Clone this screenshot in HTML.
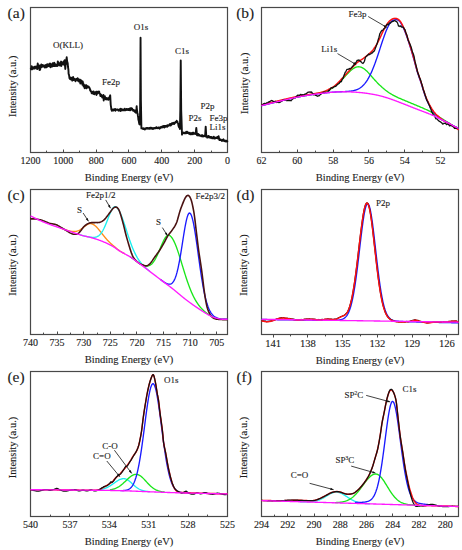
<!DOCTYPE html>
<html><head><meta charset="utf-8"><style>
html,body{margin:0;padding:0;background:#fff;}
svg{display:block;}
text{font-family:"Liberation Serif",serif;fill:#1c1c1c;stroke:#1c1c1c;stroke-width:0.12px;}
</style></head><body>
<svg xmlns="http://www.w3.org/2000/svg" width="462" height="550" viewBox="0 0 462 550">
<rect width="462" height="550" fill="#fff"/>
<rect x="30.5" y="7.5" width="197.0" height="145.0" fill="none" stroke="#484848" stroke-width="1.2"/>
<path d="M63.5,152.5 v-3.0 M96.5,152.5 v-3.0 M128.5,152.5 v-3.0 M161.5,152.5 v-3.0 M194.5,152.5 v-3.0 M46.5,152.5 v-1.9 M79.5,152.5 v-1.9 M112.5,152.5 v-1.9 M145.5,152.5 v-1.9 M178.5,152.5 v-1.9 M211.5,152.5 v-1.9" stroke="#484848" stroke-width="1" fill="none"/>
<text x="30.5" y="163.8" font-size="10" text-anchor="middle" >1200</text>
<text x="63.33" y="163.8" font-size="10" text-anchor="middle" >1000</text>
<text x="96.17" y="163.8" font-size="10" text-anchor="middle" >800</text>
<text x="129" y="163.8" font-size="10" text-anchor="middle" >600</text>
<text x="161.83" y="163.8" font-size="10" text-anchor="middle" >400</text>
<text x="194.67" y="163.8" font-size="10" text-anchor="middle" >200</text>
<text x="227.5" y="163.8" font-size="10" text-anchor="middle" >0</text>
<text x="129" y="180.7" font-size="10.5" text-anchor="middle" >Binding Energy (eV)</text>
<text transform="translate(16.4,86.3) rotate(-90)" font-size="10.5" text-anchor="middle">Intensity (a.u.)</text>
<text x="7.6" y="17.9" font-size="15.5" text-anchor="start" >(a)</text>
<rect x="261.5" y="7.5" width="197.0" height="145.0" fill="none" stroke="#484848" stroke-width="1.2"/>
<path d="M297.5,152.5 v-3.0 M333.5,152.5 v-3.0 M368.5,152.5 v-3.0 M404.5,152.5 v-3.0 M440.5,152.5 v-3.0 M279.5,152.5 v-1.9 M315.5,152.5 v-1.9 M351.5,152.5 v-1.9 M386.5,152.5 v-1.9 M422.5,152.5 v-1.9" stroke="#484848" stroke-width="1" fill="none"/>
<text x="261.5" y="163.8" font-size="10" text-anchor="middle" >62</text>
<text x="297.32" y="163.8" font-size="10" text-anchor="middle" >60</text>
<text x="333.14" y="163.8" font-size="10" text-anchor="middle" >58</text>
<text x="368.95" y="163.8" font-size="10" text-anchor="middle" >56</text>
<text x="404.77" y="163.8" font-size="10" text-anchor="middle" >54</text>
<text x="440.59" y="163.8" font-size="10" text-anchor="middle" >52</text>
<text x="360" y="180.7" font-size="10.5" text-anchor="middle" >Binding Energy (eV)</text>
<text transform="translate(247.6,83.3) rotate(-90)" font-size="10.5" text-anchor="middle">Intensity (a.u.)</text>
<text x="236.2" y="17.9" font-size="15.5" text-anchor="start" >(b)</text>
<rect x="30.5" y="189.5" width="197.0" height="145.0" fill="none" stroke="#484848" stroke-width="1.2"/>
<path d="M57.5,334.5 v-3.0 M83.5,334.5 v-3.0 M110.5,334.5 v-3.0 M136.5,334.5 v-3.0 M163.5,334.5 v-3.0 M190.5,334.5 v-3.0 M216.5,334.5 v-3.0 M43.5,334.5 v-1.9 M70.5,334.5 v-1.9 M97.5,334.5 v-1.9 M123.5,334.5 v-1.9 M150.5,334.5 v-1.9 M176.5,334.5 v-1.9 M203.5,334.5 v-1.9" stroke="#484848" stroke-width="1" fill="none"/>
<text x="30.5" y="345.8" font-size="10" text-anchor="middle" >740</text>
<text x="57.12" y="345.8" font-size="10" text-anchor="middle" >735</text>
<text x="83.74" y="345.8" font-size="10" text-anchor="middle" >730</text>
<text x="110.36" y="345.8" font-size="10" text-anchor="middle" >725</text>
<text x="136.99" y="345.8" font-size="10" text-anchor="middle" >720</text>
<text x="163.61" y="345.8" font-size="10" text-anchor="middle" >715</text>
<text x="190.23" y="345.8" font-size="10" text-anchor="middle" >710</text>
<text x="216.85" y="345.8" font-size="10" text-anchor="middle" >705</text>
<text x="129" y="362.7" font-size="10.5" text-anchor="middle" >Binding Energy (eV)</text>
<text transform="translate(16.3,265) rotate(-90)" font-size="10.5" text-anchor="middle">Intensity (a.u.)</text>
<text x="7.4" y="200" font-size="15.5" text-anchor="start" >(c)</text>
<rect x="261.5" y="189.5" width="197.0" height="145.0" fill="none" stroke="#484848" stroke-width="1.2"/>
<path d="M273.5,334.5 v3.0 M307.5,334.5 v3.0 M342.5,334.5 v3.0 M377.5,334.5 v3.0 M412.5,334.5 v3.0 M446.5,334.5 v3.0 M290.5,334.5 v1.9 M325.5,334.5 v1.9 M360.5,334.5 v1.9 M394.5,334.5 v1.9 M429.5,334.5 v1.9" stroke="#484848" stroke-width="1" fill="none"/>
<text x="273.09" y="347.4" font-size="10.6" text-anchor="middle" >141</text>
<text x="307.85" y="347.4" font-size="10.6" text-anchor="middle" >138</text>
<text x="342.62" y="347.4" font-size="10.6" text-anchor="middle" >135</text>
<text x="377.38" y="347.4" font-size="10.6" text-anchor="middle" >132</text>
<text x="412.15" y="347.4" font-size="10.6" text-anchor="middle" >129</text>
<text x="446.91" y="347.4" font-size="10.6" text-anchor="middle" >126</text>
<text x="360" y="364.1" font-size="10.5" text-anchor="middle" >Binding Energy (eV)</text>
<text transform="translate(246.9,265) rotate(-90)" font-size="10.5" text-anchor="middle">Intensity (a.u.)</text>
<text x="236.4" y="200" font-size="15.5" text-anchor="start" >(d)</text>
<rect x="30.5" y="371.5" width="197.0" height="145.0" fill="none" stroke="#484848" stroke-width="1.2"/>
<path d="M69.5,516.5 v-3.0 M109.5,516.5 v-3.0 M148.5,516.5 v-3.0 M188.5,516.5 v-3.0 M50.5,516.5 v-1.9 M89.5,516.5 v-1.9 M128.5,516.5 v-1.9 M168.5,516.5 v-1.9 M207.5,516.5 v-1.9" stroke="#484848" stroke-width="1" fill="none"/>
<text x="30.5" y="527.8" font-size="10" text-anchor="middle" >540</text>
<text x="69.9" y="527.8" font-size="10" text-anchor="middle" >537</text>
<text x="109.3" y="527.8" font-size="10" text-anchor="middle" >534</text>
<text x="148.7" y="527.8" font-size="10" text-anchor="middle" >531</text>
<text x="188.1" y="527.8" font-size="10" text-anchor="middle" >528</text>
<text x="227.5" y="527.8" font-size="10" text-anchor="middle" >525</text>
<text x="129" y="544.7" font-size="10.5" text-anchor="middle" >Binding Energy (eV)</text>
<text transform="translate(16.1,447.5) rotate(-90)" font-size="10.5" text-anchor="middle">Intensity (a.u.)</text>
<text x="7.4" y="382" font-size="15.5" text-anchor="start" >(e)</text>
<rect x="261.5" y="371.5" width="197.0" height="145.0" fill="none" stroke="#484848" stroke-width="1.2"/>
<path d="M287.5,516.5 v-3.0 M314.5,516.5 v-3.0 M340.5,516.5 v-3.0 M366.5,516.5 v-3.0 M392.5,516.5 v-3.0 M419.5,516.5 v-3.0 M445.5,516.5 v-3.0 M274.5,516.5 v-1.9 M300.5,516.5 v-1.9 M327.5,516.5 v-1.9 M353.5,516.5 v-1.9 M379.5,516.5 v-1.9 M405.5,516.5 v-1.9 M432.5,516.5 v-1.9" stroke="#484848" stroke-width="1" fill="none"/>
<text x="261.5" y="527.8" font-size="10" text-anchor="middle" >294</text>
<text x="287.77" y="527.8" font-size="10" text-anchor="middle" >292</text>
<text x="314.03" y="527.8" font-size="10" text-anchor="middle" >290</text>
<text x="340.3" y="527.8" font-size="10" text-anchor="middle" >288</text>
<text x="366.57" y="527.8" font-size="10" text-anchor="middle" >286</text>
<text x="392.83" y="527.8" font-size="10" text-anchor="middle" >284</text>
<text x="419.1" y="527.8" font-size="10" text-anchor="middle" >282</text>
<text x="445.37" y="527.8" font-size="10" text-anchor="middle" >280</text>
<text x="360" y="544.7" font-size="10.5" text-anchor="middle" >Binding Energy (eV)</text>
<text transform="translate(247.1,447.5) rotate(-90)" font-size="10.5" text-anchor="middle">Intensity (a.u.)</text>
<text x="236.4" y="382" font-size="15.5" text-anchor="start" >(f)</text>
<path d="M30.8,68.68 L31.1,69.29 L31.4,68.57 L31.7,66.28 L32,69.28 L32.3,68.6 L32.6,67.2 L32.9,68.7 L33.2,68.36 L33.5,68.22 L33.8,67.81 L34.1,68.48 L34.4,66.67 L34.7,67.42 L35,66.94 L35,68.43 L35.3,67.62 L35.6,67.12 L35.9,66.41 L36.2,67.1 L36.5,67.43 L36.8,67 L37.1,69.13 L37.4,68.7 L37.7,63.54 L38,64.64 L38.3,66.96 L38.6,66.59 L38.9,67.43 L39.2,67.4 L39.5,69.98 L39.8,65.49 L40,66.48 L40.1,69.8 L40.4,67.84 L40.7,67.82 L41,66.15 L41.3,64.55 L41.6,67.01 L41.9,66.88 L42.2,65 L42.5,65.71 L42.8,66.51 L43.1,65.26 L43.4,66.39 L43.7,66.61 L44,66.49 L44.3,65.7 L44.6,67.17 L44.9,67.54 L45,66.74 L45.2,65.14 L45.5,67.24 L45.8,65.5 L46.1,67.36 L46.4,64.63 L46.7,67.32 L47,65.99 L47.3,64.26 L47.6,65.5 L47.9,65.97 L48.2,66.23 L48.5,64.46 L48.8,64.24 L49.1,66 L49.4,65.04 L49.7,65.97 L50,66.65 L50,63.33 L50.3,65.91 L50.6,67.2 L50.9,65.06 L51.2,64.31 L51.5,66.43 L51.8,65.7 L52.1,66.54 L52.4,64.79 L52.7,63.18 L53,65.03 L53.3,64.52 L53.6,66.16 L53.9,65.32 L54.2,62.76 L54.5,63.32 L54.8,66.15 L55,65.84 L55.1,64 L55.4,64.83 L55.7,65.4 L56,65.39 L56.3,65.9 L56.6,65 L56.9,64.47 L57.2,64.19 L57.5,65.96 L57.8,61.35 L58.1,64.22 L58.4,64.4 L58.7,62.35 L59,64.72 L59.3,63.32 L59.4,65.39 L59.6,63.96 L59.9,64.96 L60.2,65.62 L60.5,64.37 L60.8,62.54 L61.1,61.56 L61.4,65.97 L61.7,63.3 L62,62.41 L62.3,63.46 L62.5,62.94 L62.6,64.32 L62.9,63.03 L63.2,62.84 L63.5,61.67 L63.6,63.25 L63.8,61.29 L64.1,63.82 L64.4,65.18 L64.6,61.1 L64.7,60.13 L65,65.37 L65.3,69.02 L65.6,65.12 L65.6,64.78 L65.9,64.53 L66.2,60.93 L66.3,60 L66.5,58.65 L66.7,57.3 L66.8,58.24 L67.1,61.06 L67.2,62 L67.4,61.98 L67.7,63.69 L67.7,63.08 L68,67.01 L68.3,68.91 L68.5,70.94 L68.6,74 L68.9,74.31 L69.2,76.08 L69.5,78.41 L69.6,78.09 L69.8,78.32 L70.1,79 L70.4,78.92 L70.7,77.58 L71,79.57 L71.3,78.24 L71.6,77.85 L71.9,78.05 L72.2,78.6 L72.3,80.58 L72.5,77.89 L72.8,79.22 L73.1,77.04 L73.4,79.15 L73.7,80.06 L74,79 L74.3,78.66 L74.6,79.54 L74.9,80.03 L75.2,80.04 L75.5,81.35 L75.8,79.68 L76.1,78.94 L76.4,79.44 L76.7,79.53 L76.7,79.71 L77,79.66 L77.3,79.95 L77.6,78.25 L77.9,80.76 L78.2,79.49 L78.5,79 L78.8,80.84 L79.1,81.59 L79.4,80.88 L79.7,80.65 L80,79.68 L80.3,83.46 L80.4,81.55 L80.6,79.89 L80.9,80.67 L81.2,81.95 L81.5,80.79 L81.8,82.9 L82.1,82.73 L82.4,84.8 L82.6,84.83 L82.7,81.41 L83,84.49 L83.3,83.29 L83.6,86.35 L83.9,85.85 L84.2,86.63 L84.2,85.07 L84.5,87.93 L84.8,88.17 L85.1,85.23 L85.4,86.68 L85.7,85.72 L86,86.41 L86.3,85.26 L86.6,88.36 L86.9,85.66 L86.9,86.31 L87.2,87.26 L87.5,86.33 L87.8,86.9 L88.1,86.76 L88.4,87.36 L88.7,86.53 L89,87.42 L89.3,87.82 L89.6,87.88 L89.6,88.25 L89.9,88.69 L90.2,90.48 L90.5,90.22 L90.8,91.17 L91.1,91.44 L91.3,92.09 L91.4,91.41 L91.7,93.25 L92,91.75 L92.3,92.25 L92.6,93.43 L92.9,93.58 L93.2,92.92 L93.5,91.46 L93.8,93.93 L94,93.85 L94.1,92.21 L94.4,94.28 L94.7,92.81 L95,92.35 L95.3,93.49 L95.6,93.18 L95.9,93.5 L96.2,91.7 L96.5,94.97 L96.8,92.58 L97.1,91.62 L97.2,93.7 L97.4,92.68 L97.7,93.22 L98,92.46 L98.3,92.62 L98.5,92.84 L98.6,91.68 L98.9,92.46 L98.9,91.34 L99.2,91.68 L99.4,93.07 L99.5,93.69 L99.8,93.8 L100.1,93.95 L100.4,96.15 L100.5,94.09 L100.7,94.9 L101,96.09 L101.3,94.89 L101.6,96.39 L101.9,96.46 L102.2,97.54 L102.5,95.94 L102.8,96.37 L103.1,97.45 L103.4,94.9 L103.7,100.44 L104,96.91 L104.3,97.04 L104.6,98.73 L104.8,97.96 L104.9,96.32 L105.2,98.81 L105.5,99.18 L105.8,98.06 L106.1,98.38 L106.4,99.27 L106.7,98.07 L107,99.53 L107.3,99.44 L107.6,98.75 L107.9,98.2 L108,99.38 L108.2,98.4 L108.5,99.7 L108.8,98.35 L109.1,98.45 L109.4,97.3 L109.5,97.26 L109.7,96.51 L110,95.79 L110.2,95.3 L110.3,97.14 L110.6,102.66 L110.7,104.5 L110.9,106.1 L111.2,107.82 L111.3,109.43 L111.5,109.07 L111.8,110.83 L112.1,109.52 L112.4,109.78 L112.7,110.22 L113,109.59 L113.3,110.65 L113.5,109.54 L113.6,109.45 L113.9,109.71 L114.2,109.86 L114.5,109.14 L114.8,109.92 L115.1,109.01 L115.4,110.73 L115.7,109.92 L116,109.61 L116.3,109.47 L116.6,109.77 L116.9,109.87 L117.2,109.42 L117.5,109.49 L117.8,109.91 L118.1,109.74 L118.4,110.56 L118.7,110.68 L119,110.06 L119.3,110.33 L119.6,109.32 L119.9,110.44 L120.2,110.07 L120.5,110.37 L120.7,111 L120.8,108.81 L121.1,110.21 L121.4,109.42 L121.7,110.34 L122,109.24 L122.3,109.67 L122.6,110.04 L122.9,110.24 L123.2,109.91 L123.5,109.39 L123.8,109.5 L124.1,110.28 L124.4,109.75 L124.7,108.78 L125,110.17 L125.3,109.91 L125.6,110.13 L125.9,109.43 L126.2,110.05 L126.5,108.96 L126.8,109.85 L127.1,109.23 L127.4,109.86 L127.7,110.01 L128,109.01 L128.3,109.36 L128.6,109.39 L128.9,110.01 L129.2,109.71 L129.3,108.62 L129.5,109.52 L129.8,109.62 L130.1,110.34 L130.4,108.15 L130.7,108.73 L131,109.72 L131.3,108.15 L131.6,108.18 L131.9,109.09 L131.9,109.37 L132.2,108.68 L132.5,109.61 L132.8,109.63 L133.1,110.67 L133.4,110.07 L133.7,110.88 L134,110.07 L134.3,110.73 L134.5,110.95 L134.6,111.74 L134.9,111.73 L135.2,111.28 L135.5,112.38 L135.8,112.73 L135.8,112.24 L136.1,110.42 L136.4,108.72 L136.7,106.15 L136.7,107.21 L137,110.03 L137.3,112.21 L137.3,113.12 L137.6,113.59 L137.9,115.72 L138.2,117.42 L138.4,119.92 L138.5,118.42 L138.8,121.2 L139.1,122.98 L139.3,123.71 L139.4,124.33 L139.7,123.6 L139.9,124.5 L140,116.33 L140.2,100 L140.3,82.23 L140.55,37.8 L140.6,46.69 L140.9,100 L140.9,100 L141.2,116.98 L141.4,128.36 L141.5,128.25 L141.8,128.37 L142.1,128.29 L142.4,128.7 L142.7,128.59 L143,128.32 L143.3,128.98 L143.6,128.27 L143.9,128.72 L144.2,128.81 L144.5,129.33 L144.8,128.46 L144.9,129.5 L145.1,128.75 L145.4,128.53 L145.7,128.27 L146,128.8 L146.3,128.5 L146.6,127.93 L146.9,127.87 L147.2,128.08 L147.5,127.98 L147.8,128.75 L148.1,128.83 L148.4,128.55 L148.7,128.27 L149,127.86 L149.3,128.03 L149.6,128.37 L149.9,128.89 L150,128.32 L150.2,127.79 L150.5,127.95 L150.8,127.73 L151.1,127.62 L151.4,127.91 L151.7,128.11 L152,128.88 L152.3,128.08 L152.6,128.71 L152.9,128.91 L153.2,128.16 L153.5,128.88 L153.8,128.49 L154.1,127.99 L154.3,128.32 L154.4,128.2 L154.7,128.05 L155,128.03 L155.3,128.15 L155.6,128.25 L155.9,127.61 L156.2,127.98 L156.5,127.25 L156.8,128.04 L157.1,128.17 L157.4,127.92 L157.7,127.94 L158,128.05 L158.3,127.44 L158.6,127.6 L158.7,127.93 L158.9,128.12 L159.2,127.79 L159.5,128.72 L159.8,127.45 L160.1,127.9 L160.4,127.97 L160.7,127.27 L161,126.9 L161.3,126.67 L161.6,127.24 L161.9,127.61 L162.2,127.17 L162.5,127.07 L162.8,126.76 L163,127.16 L163.1,125.9 L163.4,126.92 L163.7,126.77 L164,126.06 L164.3,127.63 L164.6,125.93 L164.9,126.01 L165.2,125.89 L165.5,126.89 L165.8,125.91 L166.1,126.56 L166.4,126.46 L166.7,126.24 L167,125.46 L167.3,125.72 L167.3,126.77 L167.6,125.26 L167.9,125.32 L168.2,125.48 L168.5,125.77 L168.8,125.37 L169.1,125.44 L169.4,124.46 L169.7,125.23 L169.9,124.96 L170,123.94 L170.3,125.28 L170.6,125.54 L170.9,124.04 L171.2,124.33 L171.5,124.85 L171.8,123.43 L172.1,123.11 L172.4,123.33 L172.5,123.64 L172.7,123.53 L173,123.93 L173.3,123.62 L173.6,122.78 L173.9,123.46 L174.2,123.91 L174.5,123.45 L174.8,123.21 L175.1,122.61 L175.1,123.05 L175.4,121.87 L175.7,122.38 L176,121.72 L176.3,121.99 L176.6,121.41 L176.7,120.6 L176.9,121.46 L177.2,122.41 L177.5,121.78 L177.7,122.34 L177.8,122.58 L178.1,123.24 L178.4,125.36 L178.7,126.51 L179,127.27 L179,127.01 L179.3,127.44 L179.6,128.14 L179.9,128.26 L179.9,129.01 L180.2,114.65 L180.3,110 L180.5,87.96 L180.75,60.4 L180.8,65.91 L181.1,98.98 L181.2,110 L181.4,115.95 L181.7,125.06 L182,134.66 L182,134.11 L182.3,134.1 L182.6,133.61 L182.9,132.58 L183.2,132.55 L183.5,132.71 L183.8,133.12 L184.1,133.22 L184.4,133.29 L184.6,132.74 L184.7,133.35 L185,132.81 L185.3,132.64 L185.6,133.38 L185.9,132.6 L186.2,131.79 L186.5,132.59 L186.8,133.15 L187.1,131.72 L187.4,133 L187.7,133.03 L188,132.56 L188.3,132.56 L188.6,133.06 L188.9,133.05 L189.2,133.9 L189.5,133.53 L189.8,132.66 L190,133.01 L190.1,133.72 L190.4,134.27 L190.7,133.58 L191,133.54 L191.3,134.25 L191.6,133.39 L191.9,133.26 L192.2,132.75 L192.5,133.16 L192.8,134.4 L193.1,132.75 L193.4,133.41 L193.7,132.75 L194,133.46 L194.3,133.81 L194.3,133.29 L194.6,133.69 L194.9,133.65 L195.2,133.48 L195.5,134.02 L195.7,133.2 L195.8,132.32 L196.1,129.67 L196.3,127.9 L196.4,128.97 L196.7,132.17 L196.9,134.3 L197,135.18 L197.3,134.34 L197.6,134.39 L197.9,135.43 L198.2,133.89 L198.5,134.65 L198.8,135.4 L199.1,134.65 L199.4,134.95 L199.7,135.12 L200,135.69 L200.3,135.55 L200.6,135.78 L200.9,135.97 L201.2,135.81 L201.2,136.31 L201.5,135.51 L201.8,135.23 L202.1,135.12 L202.4,135.24 L202.7,135.78 L203,136.55 L203.3,136.2 L203.6,135.89 L203.9,135.72 L204.2,136.02 L204.5,136.12 L204.8,136.09 L205.1,136.4 L205.1,136.4 L205.4,131.5 L205.7,126.6 L205.7,126.6 L206,131.6 L206.3,136.6 L206.3,136.6 L206.6,135.7 L206.9,136.76 L207.2,137.61 L207.5,136.88 L207.8,137.42 L208.1,136.91 L208.4,136.01 L208.7,137.28 L209,136.92 L209.3,136.5 L209.6,137.58 L209.9,137.41 L210,137.06 L210.2,137.73 L210.5,136.98 L210.8,137.72 L211.1,137.04 L211.4,137.76 L211.7,137.06 L212,138.3 L212.3,137.78 L212.6,138.37 L212.9,137.38 L213.2,137.58 L213.5,138.23 L213.8,136.64 L214.1,137.45 L214.4,138.46 L214.7,138.25 L215,138.53 L215.1,137.96 L215.3,138.39 L215.6,137.85 L215.9,137.6 L216.2,137.5 L216.5,138.08 L216.8,138.13 L217.1,138.14 L217.4,136.85 L217.7,137.62 L218,138.58 L218.1,138.6 L218.3,137.68 L218.6,136.3 L218.6,136.3 L218.9,137.75 L219.2,139.2 L219.2,139.2 L219.5,140.09 L219.8,139.67 L220.1,139.45 L220.4,139.95 L220.6,139.47 L220.7,140.13 L221,140.05 L221.3,140.34 L221.6,140.57 L221.9,140.97 L222.2,140.03 L222.5,140.73 L222.8,140.29 L222.9,140.3 L223.1,139.9 L223.4,139.3 L223.4,139.3 L223.7,140.1 L224,140.9 L224,140.9 L224.3,141.09 L224.6,140.76 L224.9,140.56 L225.2,141.36 L225.5,141.34 L225.8,140.77 L226.1,141.61 L226.4,140.61 L226.7,141.39 L227,141.25 L227.3,141.36 L227.3,141.1" fill="none" stroke="#111111" stroke-width="1.9" stroke-linejoin="round" stroke-linecap="round" />
<text x="53.1" y="47.9" font-size="9" text-anchor="start" >O(KLL)</text>
<text x="101.9" y="85" font-size="9" text-anchor="start" >Fe2p</text>
<text x="133.7" y="29.9" font-size="9" text-anchor="start" >O1s</text>
<text x="174.9" y="53.8" font-size="9" text-anchor="start" >C1s</text>
<text x="200.5" y="108.6" font-size="9" text-anchor="start" >P2p</text>
<text x="188.5" y="121.4" font-size="9" text-anchor="start" >P2s</text>
<text x="209.5" y="121.4" font-size="9" text-anchor="start" >Fe3p</text>
<text x="209.5" y="130.4" font-size="9" text-anchor="start" >Li1s</text>
<path d="M262,105.41 L262.5,105.28 L263,105.16 L263.5,105.04 L264,104.92 L264.5,104.79 L265,104.67 L265.5,104.55 L266,104.42 L266.5,104.3 L267,104.18 L267.5,104.06 L268,103.93 L268.5,103.81 L269,103.69 L269.5,103.57 L270,103.44 L270.5,103.32 L271,103.2 L271.5,103.08 L272,102.96 L272.5,102.83 L273,102.71 L273.5,102.59 L274,102.47 L274.5,102.35 L275,102.23 L275.5,102.11 L276,101.99 L276.5,101.87 L277,101.75 L277.5,101.63 L278,101.51 L278.5,101.39 L279,101.27 L279.5,101.16 L280,101.04 L280.5,100.92 L281,100.8 L281.5,100.68 L282,100.56 L282.5,100.44 L283,100.32 L283.5,100.21 L284,100.09 L284.5,99.97 L285,99.85 L285.5,99.73 L286,99.61 L286.5,99.49 L287,99.37 L287.5,99.25 L288,99.14 L288.5,99.02 L289,98.9 L289.5,98.79 L290,98.67 L290.5,98.55 L291,98.44 L291.5,98.33 L292,98.22 L292.5,98.1 L293,97.99 L293.5,97.88 L294,97.78 L294.5,97.67 L295,97.56 L295.5,97.46 L296,97.36 L296.5,97.25 L297,97.15 L297.5,97.05 L298,96.95 L298.5,96.86 L299,96.76 L299.5,96.66 L300,96.57 L300.5,96.47 L301,96.38 L301.5,96.28 L302,96.19 L302.5,96.1 L303,96.01 L303.5,95.92 L304,95.83 L304.5,95.74 L305,95.65 L305.5,95.56 L306,95.47 L306.5,95.38 L307,95.29 L307.5,95.2 L308,95.12 L308.5,95.03 L309,94.94 L309.5,94.86 L310,94.77 L310.5,94.68 L311,94.6 L311.5,94.51 L312,94.42 L312.5,94.34 L313,94.25 L313.5,94.16 L314,94.07 L314.5,93.98 L315,93.89 L315.5,93.8 L316,93.7 L316.5,93.61 L317,93.51 L317.5,93.41 L318,93.31 L318.5,93.2 L319,93.09 L319.5,92.98 L320,92.87 L320.5,92.75 L321,92.63 L321.5,92.5 L322,92.37 L322.5,92.24 L323,92.1 L323.5,91.95 L324,91.8 L324.5,91.64 L325,91.47 L325.5,91.3 L326,91.12 L326.5,90.93 L327,90.74 L327.5,90.53 L328,90.32 L328.5,90.09 L329,89.86 L329.5,89.61 L330,89.36 L330.5,89.09 L331,88.81 L331.5,88.52 L332,88.22 L332.5,87.91 L333,87.58 L333.5,87.24 L334,86.89 L334.5,86.53 L335,86.15 L335.5,85.77 L336,85.37 L336.5,84.95 L337,84.53 L337.5,84.09 L338,83.65 L338.5,83.19 L339,82.72 L339.5,82.24 L340,81.74 L340.5,81.24 L341,80.74 L341.5,80.22 L342,79.69 L342.5,79.16 L343,78.63 L343.5,78.09 L344,77.54 L344.5,77 L345,76.45 L345.5,75.9 L346,75.36 L346.5,74.82 L347,74.28 L347.5,73.75 L348,73.23 L348.5,72.71 L349,72.21 L349.5,71.72 L350,71.24 L350.5,70.78 L351,70.34 L351.5,69.92 L352,69.52 L352.5,69.13 L353,68.78 L353.5,68.45 L354,68.14 L354.5,67.86 L355,67.62 L355.5,67.4 L356,67.21 L356.5,67.06 L357,66.94 L357.5,66.85 L358,66.8 L358.5,66.78 L359,66.8 L359.5,66.86 L360,66.94 L360.5,67.06 L361,67.21 L361.5,67.4 L362,67.61 L362.5,67.86 L363,68.14 L363.5,68.45 L364,68.79 L364.5,69.15 L365,69.54 L365.5,69.96 L366,70.4 L366.5,70.86 L367,71.34 L367.5,71.84 L368,72.35 L368.5,72.88 L369,73.43 L369.5,73.99 L370,74.56 L370.5,75.14 L371,75.72 L371.5,76.29 L372,76.87 L372.5,77.44 L373,78.01 L373.5,78.58 L374,79.14 L374.5,79.7 L375,80.25 L375.5,80.79 L376,81.33 L376.5,81.86 L377,82.39 L377.5,82.91 L378,83.41 L378.5,83.92 L379,84.41 L379.5,84.9 L380,85.38 L380.5,85.85 L381,86.31 L381.5,86.77 L382,87.21 L382.5,87.66 L383,88.09 L383.5,88.52 L384,88.94 L384.5,89.35 L385,89.76 L385.5,90.17 L386,90.56 L386.5,90.94 L387,91.31 L387.5,91.67 L388,92.03 L388.5,92.37 L389,92.7 L389.5,93.03 L390,93.34 L390.5,93.65 L391,93.95 L391.5,94.24 L392,94.53 L392.5,94.81 L393,95.09 L393.5,95.36 L394,95.63 L394.5,95.89 L395,96.15 L395.5,96.4 L396,96.65 L396.5,96.89 L397,97.13 L397.5,97.36 L398,97.6 L398.5,97.82 L399,98.05 L399.5,98.27 L400,98.49 L400.5,98.71 L401,98.93 L401.5,99.14 L402,99.35 L402.5,99.56 L403,99.77 L403.5,99.98 L404,100.19 L404.5,100.4 L405,100.61 L405.5,100.82 L406,101.02 L406.5,101.23 L407,101.44 L407.5,101.64 L408,101.85 L408.5,102.06 L409,102.26 L409.5,102.47 L410,102.68 L410.5,102.89 L411,103.09 L411.5,103.3 L412,103.51 L412.5,103.72 L413,103.93 L413.5,104.14 L414,104.35 L414.5,104.56 L415,104.77 L415.5,104.98 L416,105.19 L416.5,105.4 L417,105.61 L417.5,105.82 L418,106.03 L418.5,106.24 L419,106.45 L419.5,106.65 L420,106.86 L420.5,107.08 L421,107.29 L421.5,107.5 L422,107.71 L422.5,107.93 L423,108.15 L423.5,108.37 L424,108.59 L424.5,108.81 L425,109.03 L425.5,109.26 L426,109.49 L426.5,109.73 L427,109.96 L427.5,110.2 L428,110.44 L428.5,110.69 L429,110.95 L429.5,111.2 L430,111.47 L430.5,111.74 L431,112.01 L431.5,112.29 L432,112.58 L432.5,112.87 L433,113.16 L433.5,113.46 L434,113.76 L434.5,114.06 L435,114.37 L435.5,114.68 L436,114.99 L436.5,115.3 L437,115.61 L437.5,115.93 L438,116.24 L438.5,116.55 L439,116.86 L439.5,117.18 L440,117.48 L440.5,117.79 L441,118.11 L441.5,118.42 L442,118.73 L442.5,119.04 L443,119.36 L443.5,119.67 L444,119.99 L444.5,120.3 L445,120.62 L445.5,120.93 L446,121.25 L446.5,121.56 L447,121.88 L447.5,122.19 L448,122.5 L448.5,122.81 L449,123.12 L449.5,123.43 L450,123.73 L450.5,124.04 L451,124.34 L451.5,124.64 L452,124.93 L452.5,125.22 L453,125.51 L453.5,125.78 L454,126.05 L454.5,126.32 L455,126.57 L455.5,126.83 L456,127.08 L456.5,127.33 L457,127.58 L457.5,127.83 L458,128.08" fill="none" stroke="#19e619" stroke-width="1.35" stroke-linejoin="round" stroke-linecap="round" />
<path d="M262,105.48 L262.5,105.36 L263,105.23 L263.5,105.11 L264,104.99 L264.5,104.87 L265,104.75 L265.5,104.62 L266,104.5 L266.5,104.38 L267,104.26 L267.5,104.13 L268,104.01 L268.5,103.89 L269,103.77 L269.5,103.64 L270,103.52 L270.5,103.4 L271,103.28 L271.5,103.15 L272,103.03 L272.5,102.91 L273,102.79 L273.5,102.67 L274,102.54 L274.5,102.42 L275,102.3 L275.5,102.18 L276,102.06 L276.5,101.94 L277,101.82 L277.5,101.7 L278,101.58 L278.5,101.46 L279,101.34 L279.5,101.22 L280,101.11 L280.5,100.99 L281,100.87 L281.5,100.75 L282,100.63 L282.5,100.51 L283,100.39 L283.5,100.27 L284,100.15 L284.5,100.03 L285,99.91 L285.5,99.79 L286,99.67 L286.5,99.55 L287,99.43 L287.5,99.31 L288,99.19 L288.5,99.07 L289,98.95 L289.5,98.84 L290,98.72 L290.5,98.61 L291,98.49 L291.5,98.38 L292,98.27 L292.5,98.15 L293,98.04 L293.5,97.93 L294,97.82 L294.5,97.72 L295,97.61 L295.5,97.51 L296,97.4 L296.5,97.3 L297,97.2 L297.5,97.1 L298,97 L298.5,96.9 L299,96.81 L299.5,96.71 L300,96.62 L300.5,96.52 L301,96.43 L301.5,96.34 L302,96.24 L302.5,96.15 L303,96.06 L303.5,95.97 L304,95.89 L304.5,95.8 L305,95.71 L305.5,95.63 L306,95.54 L306.5,95.46 L307,95.37 L307.5,95.29 L308,95.21 L308.5,95.13 L309,95.05 L309.5,94.97 L310,94.89 L310.5,94.81 L311,94.74 L311.5,94.66 L312,94.59 L312.5,94.51 L313,94.44 L313.5,94.37 L314,94.3 L314.5,94.23 L315,94.16 L315.5,94.09 L316,94.02 L316.5,93.95 L317,93.89 L317.5,93.82 L318,93.76 L318.5,93.69 L319,93.63 L319.5,93.57 L320,93.51 L320.5,93.44 L321,93.38 L321.5,93.33 L322,93.27 L322.5,93.21 L323,93.15 L323.5,93.1 L324,93.04 L324.5,92.99 L325,92.93 L325.5,92.88 L326,92.83 L326.5,92.78 L327,92.73 L327.5,92.68 L328,92.63 L328.5,92.58 L329,92.53 L329.5,92.49 L330,92.44 L330.5,92.4 L331,92.36 L331.5,92.31 L332,92.27 L332.5,92.23 L333,92.19 L333.5,92.15 L334,92.11 L334.5,92.08 L335,92.04 L335.5,92.01 L336,91.98 L336.5,91.95 L337,91.92 L337.5,91.89 L338,91.87 L338.5,91.84 L339,91.82 L339.5,91.8 L340,91.77 L340.5,91.75 L341,91.73 L341.5,91.71 L342,91.69 L342.5,91.67 L343,91.65 L343.5,91.62 L344,91.6 L344.5,91.58 L345,91.56 L345.5,91.53 L346,91.5 L346.5,91.47 L347,91.44 L347.5,91.41 L348,91.37 L348.5,91.33 L349,91.29 L349.5,91.24 L350,91.19 L350.5,91.13 L351,91.07 L351.5,91 L352,90.92 L352.5,90.83 L353,90.74 L353.5,90.63 L354,90.52 L354.5,90.39 L355,90.25 L355.5,90.1 L356,89.93 L356.5,89.75 L357,89.55 L357.5,89.34 L358,89.1 L358.5,88.85 L359,88.58 L359.5,88.28 L360,87.96 L360.5,87.62 L361,87.26 L361.5,86.87 L362,86.45 L362.5,86.01 L363,85.53 L363.5,85.03 L364,84.49 L364.5,83.92 L365,83.32 L365.5,82.69 L366,82.02 L366.5,81.31 L367,80.56 L367.5,79.78 L368,78.96 L368.5,78.1 L369,77.2 L369.5,76.26 L370,75.28 L370.5,74.26 L371,73.2 L371.5,72.1 L372,70.96 L372.5,69.79 L373,68.57 L373.5,67.33 L374,66.04 L374.5,64.72 L375,63.37 L375.5,61.99 L376,60.59 L376.5,59.15 L377,57.7 L377.5,56.22 L378,54.73 L378.5,53.22 L379,51.7 L379.5,50.17 L380,48.63 L380.5,47.1 L381,45.57 L381.5,44.05 L382,42.53 L382.5,41.04 L383,39.56 L383.5,38.1 L384,36.67 L384.5,35.28 L385,33.92 L385.5,32.6 L386,31.32 L386.5,30.09 L387,28.92 L387.5,27.8 L388,26.74 L388.5,25.74 L389,24.82 L389.5,23.96 L390,23.18 L390.5,22.48 L391,21.86 L391.5,21.32 L392,20.88 L392.5,20.52 L393,20.25 L393.5,20.07 L394,19.98 L394.5,19.99 L395,20.1 L395.5,19.66 L396,19.66 L396.5,19.66 L397,19.64 L397.5,19.84 L398,20.11 L398.5,20.44 L399,20.83 L399.5,21.3 L400,21.87 L400.5,22.56 L401,23.34 L401.5,24.2 L402,25.13 L402.5,26.1 L403,27.11 L403.5,28.17 L404,29.29 L404.5,30.47 L405,31.69 L405.5,32.97 L406,34.3 L406.5,35.68 L407,37.11 L407.5,38.58 L408,40.08 L408.5,41.61 L409,43.16 L409.5,44.74 L410,46.32 L410.5,47.91 L411,49.53 L411.5,51.17 L412,52.83 L412.5,54.52 L413,56.22 L413.5,57.95 L414,59.71 L414.5,61.56 L415,63.48 L415.5,65.41 L416,67.33 L416.5,69.17 L417,70.9 L417.5,72.51 L418,74.05 L418.5,75.53 L419,76.98 L419.5,78.41 L420,79.84 L420.5,81.3 L421,82.81 L421.5,84.38 L422,85.99 L422.5,87.62 L423,89.26 L423.5,90.89 L424,92.48 L424.5,94.03 L425,95.5 L425.5,96.88 L426,98.16 L426.5,99.34 L427,100.48 L427.5,101.59 L428,102.66 L428.5,103.7 L429,104.69 L429.5,105.66 L430,106.59 L430.5,107.48 L431,108.34 L431.5,109.16 L432,109.95 L432.5,110.7 L433,111.42 L433.5,112.11 L434,112.76 L434.5,113.38 L435,113.97 L435.5,114.54 L436,115.08 L436.5,115.59 L437,116.09 L437.5,116.57 L438,117.02 L438.5,117.47 L439,117.9 L439.5,118.32 L440,118.73 L440.5,119.04 L441,119.3 L441.5,119.55 L442,119.8 L442.5,120.06 L443,120.31 L443.5,120.57 L444,120.83 L444.5,121.08 L445,121.34 L445.5,121.6 L446,121.86 L446.5,122.12 L447,122.39 L447.5,122.65 L448,122.91 L448.5,123.17 L449,123.44 L449.5,123.7 L450,123.96 L450.5,124.23 L451,124.49 L451.5,124.75 L452,125.02 L452.5,125.28 L453,125.54 L453.5,125.81 L454,126.07 L454.5,126.33 L455,126.59 L455.5,126.85 L456,127.11 L456.5,127.37 L457,127.63 L457.5,127.89 L458,128.14" fill="none" stroke="#1a1aff" stroke-width="1.35" stroke-linejoin="round" stroke-linecap="round" />
<path d="M262,104.78 L262.5,104.66 L263,104.53 L263.5,104.41 L264,104.29 L264.5,104.17 L265,104.04 L265.5,103.92 L266,103.8 L266.5,103.68 L267,103.55 L267.5,103.43 L268,103.31 L268.5,103.18 L269,103.06 L269.5,102.94 L270,102.81 L270.5,102.69 L271,102.57 L271.5,102.45 L272,102.32 L272.5,102.2 L273,102.08 L273.5,101.96 L274,101.84 L274.5,101.72 L275,101.59 L275.5,101.47 L276,101.35 L276.5,101.23 L277,101.11 L277.5,101 L278,100.88 L278.5,100.76 L279,100.64 L279.5,100.52 L280,100.41 L280.5,100.29 L281,100.17 L281.5,100.05 L282,99.94 L282.5,99.82 L283,99.7 L283.5,99.58 L284,99.47 L284.5,99.35 L285,99.23 L285.5,99.12 L286,99 L286.5,98.88 L287,98.77 L287.5,98.65 L288,98.54 L288.5,98.42 L289,98.31 L289.5,98.2 L290,98.08 L290.5,97.97 L291,97.86 L291.5,97.75 L292,97.64 L292.5,97.53 L293,97.42 L293.5,97.32 L294,97.21 L294.5,97.11 L295,97 L295.5,96.9 L296,96.8 L296.5,96.7 L297,96.6 L297.5,96.5 L298,96.41 L298.5,96.31 L299,96.22 L299.5,96.13 L300,96.04 L300.5,95.95 L301,95.86 L301.5,95.78 L302,95.69 L302.5,95.6 L303,95.52 L303.5,95.44 L304,95.36 L304.5,95.27 L305,95.19 L305.5,95.11 L306,95.03 L306.5,94.95 L307,94.87 L307.5,94.79 L308,94.71 L308.5,94.63 L309,94.55 L309.5,94.47 L310,94.39 L310.5,94.31 L311,94.23 L311.5,94.14 L312,94.06 L312.5,93.98 L313,93.89 L313.5,93.81 L314,93.72 L314.5,93.64 L315,93.55 L315.5,93.46 L316,93.38 L316.5,93.3 L317,93.22 L317.5,93.14 L318,93.06 L318.5,92.97 L319,92.88 L319.5,92.79 L320,92.69 L320.5,92.58 L321,92.46 L321.5,92.34 L322,92.2 L322.5,92.05 L323,91.9 L323.5,91.73 L324,91.55 L324.5,91.37 L325,91.17 L325.5,90.97 L326,90.75 L326.5,90.53 L327,90.3 L327.5,90.05 L328,89.8 L328.5,89.54 L329,89.28 L329.5,89.02 L330,88.76 L330.5,88.48 L331,88.2 L331.5,87.91 L332,87.61 L332.5,87.3 L333,86.98 L333.5,86.63 L334,86.28 L334.5,85.9 L335,85.5 L335.5,85.08 L336,84.64 L336.5,84.19 L337,83.72 L337.5,83.24 L338,82.74 L338.5,82.23 L339,81.72 L339.5,81.2 L340,80.67 L340.5,80.14 L341,79.61 L341.5,79.07 L342,78.54 L342.5,78.01 L343,77.49 L343.5,76.96 L344,76.42 L344.5,75.88 L345,75.34 L345.5,74.78 L346,74.23 L346.5,73.68 L347,73.12 L347.5,72.57 L348,72.01 L348.5,71.46 L349,70.91 L349.5,70.37 L350,69.83 L350.5,69.31 L351,68.78 L351.5,68.25 L352,67.72 L352.5,67.19 L353,66.67 L353.5,66.15 L354,65.63 L354.5,65.13 L355,64.63 L355.5,64.15 L356,63.68 L356.5,63.22 L357,62.79 L357.5,62.37 L358,61.98 L358.5,61.62 L359,61.27 L359.5,60.93 L360,60.61 L360.5,60.29 L361,59.98 L361.5,59.66 L362,59.33 L362.5,59 L363,58.65 L363.5,58.28 L364,57.89 L364.5,57.51 L365,57.13 L365.5,56.75 L366,56.37 L366.5,55.99 L367,55.6 L367.5,55.2 L368,54.79 L368.5,54.38 L369,53.95 L369.5,53.51 L370,53.06 L370.5,52.59 L371,52.1 L371.5,51.6 L372,51.06 L372.5,50.47 L373,49.86 L373.5,49.2 L374,48.52 L374.5,47.8 L375,47.06 L375.5,46.29 L376,45.5 L376.5,44.67 L377,43.79 L377.5,42.87 L378,41.91 L378.5,40.93 L379,39.93 L379.5,38.91 L380,37.9 L380.5,36.86 L381,35.77 L381.5,34.66 L382,33.53 L382.5,32.42 L383,31.33 L383.5,30.29 L384,29.31 L384.5,28.37 L385,27.45 L385.5,26.55 L386,25.7 L386.5,24.88 L387,24.11 L387.5,23.4 L388,22.75 L388.5,22.14 L389,21.59 L389.5,21.09 L390,20.63 L390.5,20.22 L391,19.85 L391.5,19.52 L392,19.23 L392.5,18.98 L393,18.76 L393.5,18.59 L394,18.47 L394.5,18.39 L395,18.36 L395.5,18.39 L396,18.46 L396.5,18.58 L397,18.74 L397.5,18.94 L398,19.21 L398.5,19.54 L399,19.93 L399.5,20.4 L400,20.97 L400.5,21.66 L401,22.44 L401.5,23.3 L402,24.23 L402.5,25.2 L403,26.21 L403.5,27.27 L404,28.39 L404.5,29.57 L405,30.79 L405.5,32.07 L406,33.4 L406.5,34.78 L407,36.21 L407.5,37.68 L408,39.18 L408.5,40.71 L409,42.26 L409.5,43.84 L410,45.42 L410.5,47.01 L411,48.63 L411.5,50.27 L412,51.93 L412.5,53.62 L413,55.32 L413.5,57.05 L414,58.81 L414.5,60.66 L415,62.58 L415.5,64.51 L416,66.43 L416.5,68.27 L417,70 L417.5,71.61 L418,73.15 L418.5,74.63 L419,76.08 L419.5,77.51 L420,78.94 L420.5,80.4 L421,81.91 L421.5,83.48 L422,85.09 L422.5,86.72 L423,88.36 L423.5,89.99 L424,91.58 L424.5,93.13 L425,94.6 L425.5,95.98 L426,97.26 L426.5,98.44 L427,99.58 L427.5,100.69 L428,101.76 L428.5,102.8 L429,103.79 L429.5,104.76 L430,105.69 L430.5,106.58 L431,107.44 L431.5,108.26 L432,109.05 L432.5,109.8 L433,110.52 L433.5,111.21 L434,111.86 L434.5,112.48 L435,113.07 L435.5,113.64 L436,114.18 L436.5,114.69 L437,115.19 L437.5,115.67 L438,116.12 L438.5,116.57 L439,117 L439.5,117.42 L440,117.83 L440.5,118.24 L441,118.63 L441.5,119.03 L442,119.42 L442.5,119.81 L443,120.17 L443.5,120.52 L444,120.85 L444.5,121.16 L445,121.46 L445.5,121.75 L446,122.03 L446.5,122.3 L447,122.57 L447.5,122.83 L448,123.1 L448.5,123.37 L449,123.64 L449.5,123.91 L450,124.2 L450.5,124.49 L451,124.8 L451.5,125.12 L452,125.44 L452.5,125.76 L453,126.09 L453.5,126.42 L454,126.76 L454.5,127.09 L455,127.43 L455.5,127.77 L456,128.11 L456.5,128.45 L457,128.79 L457.5,129.13 L458,129.47" fill="none" stroke="#ff1010" stroke-width="1.5" stroke-linejoin="round" stroke-linecap="round" />
<path d="M262,104.72 L262.5,104.63 L263,104.38 L263.5,103.89 L264,103.66 L264.5,103.46 L265,103.42 L265.5,103.85 L266,103.52 L266.5,102.8 L267,102.85 L267.5,102.87 L268,102.54 L268.5,101.97 L269,101.71 L269.5,101.94 L270,101.42 L270.5,100.98 L271,100.74 L271.5,100.49 L272,100.54 L272.5,100.91 L273,101.18 L273.5,101.45 L274,101.97 L274.5,101.98 L275,101.38 L275.5,101.4 L276,102.2 L276.5,102.53 L277,102.28 L277.5,102.23 L278,102.41 L278.5,102.28 L279,102.68 L279.5,102.48 L280,101.92 L280.5,102.07 L281,101.61 L281.5,101.01 L282,100.87 L282.5,100.62 L283,100.01 L283.5,99.8 L284,100.35 L284.5,99.85 L285,99.7 L285.5,100.16 L286,99.82 L286.5,100.4 L287,100.87 L287.5,100.12 L288,100.03 L288.5,100.58 L289,100.56 L289.5,100.61 L290,100.62 L290.5,100.53 L291,100.77 L291.5,100.18 L292,99.55 L292.5,99.26 L293,98.86 L293.5,98.28 L294,97.71 L294.5,97.62 L295,97.69 L295.5,97.75 L296,96.85 L296.5,96.02 L297,96.23 L297.5,95.61 L298,95.03 L298.5,95.26 L299,95.47 L299.5,95.46 L300,94.86 L300.5,94.45 L301,94.45 L301.5,95.01 L302,95.07 L302.5,94.68 L303,94.96 L303.5,95.02 L304,94.77 L304.5,94.29 L305,94.04 L305.5,93.86 L306,93.78 L306.5,93.67 L307,92.96 L307.5,92.61 L308,92.24 L308.5,92.14 L309,92.14 L309.5,92.06 L310,91.88 L310.5,92.07 L311,92.28 L311.5,91.99 L312,92.7 L312.5,93.32 L313,93.7 L313.5,94.76 L314,94.75 L314.5,94.24 L315,94.78 L315.5,95.34 L316,95.49 L316.5,95.52 L317,95.94 L317.5,96.28 L318,95.91 L318.5,95.77 L319,95.93 L319.5,95.33 L320,94.9 L320.5,94.39 L321,94.02 L321.5,93.82 L322,93.27 L322.5,92.9 L323,92.73 L323.5,92.3 L324,92 L324.5,92.6 L325,92.31 L325.5,92.4 L326,92.42 L326.5,92.26 L327,92.29 L327.5,92 L328,91.83 L328.5,90.67 L329,90.36 L329.5,90.53 L330,89.57 L330.5,88.56 L331,88.09 L331.5,87.66 L332,87.94 L332.5,88.04 L333,87.62 L333.5,87.3 L334,86.84 L334.5,86.36 L335,86.49 L335.5,86.41 L336,85.96 L336.5,85.65 L337,84.86 L337.5,84.41 L338,84.08 L338.5,83.79 L339,83.42 L339.5,82.92 L340,82.23 L340.5,81.64 L341,81.9 L341.5,81.25 L342,79.66 L342.5,78.93 L343,78.55 L343.5,76.97 L344,75.35 L344.5,74.41 L345,72.79 L345.5,71.93 L346,71.27 L346.5,70.19 L347,69.5 L347.5,69.44 L348,69.39 L348.5,69.1 L349,68.88 L349.5,68.49 L350,68.92 L350.5,68.78 L351,68.12 L351.5,67.8 L352,67.1 L352.5,66.41 L353,66.07 L353.5,65.48 L354,64.63 L354.5,64.09 L355,63.81 L355.5,63.32 L356,62.44 L356.5,61.47 L357,60.42 L357.5,60.33 L358,60.58 L358.5,60.08 L359,60.01 L359.5,60.52 L360,61.01 L360.5,61.51 L361,61.6 L361.5,62.35 L362,62.89 L362.5,63.2 L363,63.48 L363.5,62.74 L364,62.07 L364.5,61.04 L365,59.01 L365.5,57.04 L366,56.66 L366.5,56.23 L367,55.55 L367.5,55.7 L368,55 L368.5,53.99 L369,54.3 L369.5,54.66 L370,54.27 L370.5,54.01 L371,53.64 L371.5,53.04 L372,53 L372.5,52.81 L373,51.95 L373.5,51.69 L374,51.34 L374.5,50.43 L375,49.21 L375.5,47.84 L376,46.65 L376.5,45.28 L377,44.08 L377.5,42.32 L378,40.41 L378.5,38.71 L379,37.22 L379.5,35.02 L380,33.27 L380.5,32.58 L381,31.67 L381.5,30.84 L382,30.32 L382.5,30.4 L383,29.87 L383.5,29.12 L384,28.56 L384.5,28.36 L385,27.95 L385.5,26.58 L386,25.92 L386.5,25.48 L387,24.28 L387.5,24.16 L388,24.89 L388.5,24.58 L389,23.47 L389.5,22.8 L390,23.03 L390.5,22.98 L391,22.35 L391.5,21.96 L392,21.64 L392.5,21.57 L393,21.47 L393.5,21.13 L394,20.61 L394.5,20.69 L395,20.87 L395.5,21.22 L396,21.36 L396.5,21.43 L397,22.28 L397.5,22.84 L398,24.36 L398.5,26.04 L399,25.99 L399.5,26.11 L400,26.56 L400.5,25.87 L401,26.07 L401.5,27.03 L402,27.21 L402.5,27.09 L403,27.13 L403.5,27.59 L404,28.36 L404.5,29.12 L405,29.77 L405.5,31.47 L406,32.98 L406.5,34.23 L407,35.59 L407.5,37.58 L408,39.67 L408.5,40.79 L409,41.98 L409.5,43.04 L410,44.22 L410.5,45.51 L411,46.82 L411.5,48.34 L412,50.27 L412.5,51.93 L413,53.13 L413.5,54.54 L414,56.24 L414.5,58.89 L415,61.42 L415.5,63.31 L416,65.39 L416.5,67.29 L417,69.41 L417.5,71.77 L418,73.33 L418.5,74.56 L419,76.03 L419.5,77.5 L420,78.49 L420.5,79.77 L421,81.38 L421.5,83.18 L422,84.79 L422.5,86.36 L423,88.67 L423.5,90.14 L424,91.26 L424.5,93.03 L425,94.77 L425.5,95.96 L426,97.48 L426.5,99.59 L427,100.69 L427.5,101.35 L428,102.37 L428.5,103.7 L429,104.81 L429.5,105.57 L430,107.35 L430.5,108.52 L431,109.58 L431.5,111.33 L432,112.19 L432.5,112.98 L433,114.43 L433.5,115.17 L434,115.36 L434.5,115.85 L435,116.72 L435.5,118.11 L436,118.94 L436.5,118.84 L437,118.85 L437.5,119.43 L438,120.17 L438.5,120.65 L439,121.01 L439.5,121.5 L440,121.7 L440.5,121.93 L441,122.38 L441.5,122.67 L442,123.05 L442.5,123.85 L443,124.07 L443.5,123.74 L444,123.24 L444.5,123.41 L445,123.42 L445.5,123.02 L446,123.88 L446.5,124.57 L447,124.44 L447.5,123.94 L448,124.03 L448.5,124.46 L449,124.89 L449.5,125.85 L450,125.93 L450.5,125.33 L451,125.18 L451.5,125.63 L452,126.18 L452.5,126.2 L453,126.59 L453.5,126.9 L454,127.46 L454.5,128.3 L455,128.5 L455.5,128.24 L456,128.18 L456.5,128.32 L457,128.1 L457.5,128.06 L458,127.83" fill="none" stroke="#111111" stroke-width="1.3" stroke-linejoin="round" stroke-linecap="round" />
<path d="M262,105.48 L262.5,105.36 L263,105.23 L263.5,105.11 L264,104.99 L264.5,104.87 L265,104.75 L265.5,104.62 L266,104.5 L266.5,104.38 L267,104.26 L267.5,104.13 L268,104.01 L268.5,103.89 L269,103.77 L269.5,103.64 L270,103.52 L270.5,103.4 L271,103.28 L271.5,103.15 L272,103.03 L272.5,102.91 L273,102.79 L273.5,102.67 L274,102.54 L274.5,102.42 L275,102.3 L275.5,102.18 L276,102.06 L276.5,101.94 L277,101.82 L277.5,101.7 L278,101.58 L278.5,101.46 L279,101.34 L279.5,101.22 L280,101.11 L280.5,100.99 L281,100.87 L281.5,100.75 L282,100.63 L282.5,100.51 L283,100.39 L283.5,100.27 L284,100.15 L284.5,100.03 L285,99.91 L285.5,99.79 L286,99.67 L286.5,99.55 L287,99.43 L287.5,99.31 L288,99.19 L288.5,99.07 L289,98.95 L289.5,98.84 L290,98.72 L290.5,98.61 L291,98.49 L291.5,98.38 L292,98.27 L292.5,98.15 L293,98.04 L293.5,97.93 L294,97.82 L294.5,97.72 L295,97.61 L295.5,97.51 L296,97.4 L296.5,97.3 L297,97.2 L297.5,97.1 L298,97 L298.5,96.9 L299,96.81 L299.5,96.71 L300,96.62 L300.5,96.52 L301,96.43 L301.5,96.34 L302,96.24 L302.5,96.15 L303,96.06 L303.5,95.97 L304,95.89 L304.5,95.8 L305,95.71 L305.5,95.63 L306,95.54 L306.5,95.46 L307,95.37 L307.5,95.29 L308,95.21 L308.5,95.13 L309,95.05 L309.5,94.97 L310,94.89 L310.5,94.81 L311,94.74 L311.5,94.66 L312,94.59 L312.5,94.51 L313,94.44 L313.5,94.37 L314,94.3 L314.5,94.23 L315,94.16 L315.5,94.09 L316,94.02 L316.5,93.95 L317,93.89 L317.5,93.82 L318,93.76 L318.5,93.69 L319,93.63 L319.5,93.57 L320,93.51 L320.5,93.45 L321,93.38 L321.5,93.33 L322,93.27 L322.5,93.21 L323,93.15 L323.5,93.1 L324,93.04 L324.5,92.99 L325,92.93 L325.5,92.88 L326,92.83 L326.5,92.78 L327,92.73 L327.5,92.68 L328,92.63 L328.5,92.58 L329,92.54 L329.5,92.49 L330,92.45 L330.5,92.4 L331,92.36 L331.5,92.32 L332,92.28 L332.5,92.24 L333,92.2 L333.5,92.16 L334,92.13 L334.5,92.09 L335,92.06 L335.5,92.03 L336,92 L336.5,91.98 L337,91.95 L337.5,91.93 L338,91.91 L338.5,91.89 L339,91.87 L339.5,91.86 L340,91.84 L340.5,91.83 L341,91.82 L341.5,91.81 L342,91.8 L342.5,91.8 L343,91.79 L343.5,91.79 L344,91.79 L344.5,91.79 L345,91.79 L345.5,91.8 L346,91.8 L346.5,91.81 L347,91.81 L347.5,91.83 L348,91.84 L348.5,91.85 L349,91.87 L349.5,91.88 L350,91.9 L350.5,91.92 L351,91.94 L351.5,91.97 L352,91.99 L352.5,92.02 L353,92.04 L353.5,92.07 L354,92.1 L354.5,92.13 L355,92.16 L355.5,92.2 L356,92.23 L356.5,92.27 L357,92.3 L357.5,92.34 L358,92.38 L358.5,92.42 L359,92.46 L359.5,92.5 L360,92.54 L360.5,92.59 L361,92.63 L361.5,92.68 L362,92.73 L362.5,92.79 L363,92.84 L363.5,92.9 L364,92.96 L364.5,93.02 L365,93.08 L365.5,93.14 L366,93.21 L366.5,93.28 L367,93.35 L367.5,93.42 L368,93.49 L368.5,93.57 L369,93.64 L369.5,93.72 L370,93.8 L370.5,93.88 L371,93.96 L371.5,94.05 L372,94.13 L372.5,94.22 L373,94.31 L373.5,94.4 L374,94.5 L374.5,94.59 L375,94.69 L375.5,94.79 L376,94.89 L376.5,94.99 L377,95.1 L377.5,95.21 L378,95.32 L378.5,95.44 L379,95.56 L379.5,95.68 L380,95.8 L380.5,95.93 L381,96.06 L381.5,96.19 L382,96.32 L382.5,96.46 L383,96.6 L383.5,96.75 L384,96.89 L384.5,97.04 L385,97.19 L385.5,97.35 L386,97.5 L386.5,97.66 L387,97.82 L387.5,97.98 L388,98.14 L388.5,98.3 L389,98.47 L389.5,98.63 L390,98.8 L390.5,98.97 L391,99.14 L391.5,99.31 L392,99.49 L392.5,99.67 L393,99.85 L393.5,100.03 L394,100.22 L394.5,100.4 L395,100.59 L395.5,100.78 L396,100.97 L396.5,101.16 L397,101.35 L397.5,101.54 L398,101.73 L398.5,101.92 L399,102.12 L399.5,102.31 L400,102.5 L400.5,102.69 L401,102.89 L401.5,103.08 L402,103.27 L402.5,103.47 L403,103.66 L403.5,103.86 L404,104.05 L404.5,104.25 L405,104.44 L405.5,104.64 L406,104.84 L406.5,105.03 L407,105.23 L407.5,105.43 L408,105.63 L408.5,105.82 L409,106.02 L409.5,106.22 L410,106.42 L410.5,106.62 L411,106.82 L411.5,107.01 L412,107.21 L412.5,107.41 L413,107.61 L413.5,107.81 L414,108.01 L414.5,108.2 L415,108.4 L415.5,108.6 L416,108.8 L416.5,108.99 L417,109.19 L417.5,109.38 L418,109.57 L418.5,109.76 L419,109.96 L419.5,110.15 L420,110.33 L420.5,110.52 L421,110.71 L421.5,110.9 L422,111.09 L422.5,111.28 L423,111.47 L423.5,111.66 L424,111.85 L424.5,112.04 L425,112.23 L425.5,112.42 L426,112.61 L426.5,112.81 L427,113 L427.5,113.2 L428,113.39 L428.5,113.59 L429,113.79 L429.5,114 L430,114.2 L430.5,114.41 L431,114.62 L431.5,114.83 L432,115.04 L432.5,115.26 L433,115.48 L433.5,115.7 L434,115.93 L434.5,116.15 L435,116.38 L435.5,116.62 L436,116.85 L436.5,117.09 L437,117.33 L437.5,117.57 L438,117.81 L438.5,118.05 L439,118.3 L439.5,118.55 L440,118.79 L440.5,119.04 L441,119.3 L441.5,119.55 L442,119.8 L442.5,120.06 L443,120.31 L443.5,120.57 L444,120.83 L444.5,121.08 L445,121.34 L445.5,121.6 L446,121.86 L446.5,122.12 L447,122.39 L447.5,122.65 L448,122.91 L448.5,123.17 L449,123.44 L449.5,123.7 L450,123.96 L450.5,124.23 L451,124.49 L451.5,124.75 L452,125.02 L452.5,125.28 L453,125.54 L453.5,125.81 L454,126.07 L454.5,126.33 L455,126.59 L455.5,126.85 L456,127.11 L456.5,127.37 L457,127.63 L457.5,127.89 L458,128.14" fill="none" stroke="#ff19ff" stroke-width="1.35" stroke-linejoin="round" stroke-linecap="round" />
<text x="348.6" y="17.1" font-size="9" text-anchor="start" >Fe3p</text>
<text x="321.2" y="52" font-size="9" text-anchor="start" >Li1s</text>
<line x1="368.2" y1="16.5" x2="386.8" y2="27.4" stroke="#111" stroke-width="0.8"/>
<path d="M386.8,27.4 L383.64,26.87 L384.79,24.9 Z" fill="#111"/>
<line x1="337.5" y1="53.6" x2="356.2" y2="64.6" stroke="#111" stroke-width="0.8"/>
<path d="M356.2,64.6 L353.04,64.06 L354.19,62.1 Z" fill="#111"/>
<path d="M60.5,228.09 L61,228.26 L61.5,228.44 L62,228.61 L62.5,228.78 L63,228.95 L63.5,229.12 L64,229.29 L64.5,229.46 L65,229.63 L65.5,229.8 L66,229.96 L66.5,230.12 L67,230.27 L67.5,230.42 L68,230.57 L68.5,230.71 L69,230.84 L69.5,230.96 L70,231.08 L70.5,231.18 L71,231.27 L71.5,231.35 L72,231.42 L72.5,231.47 L73,231.51 L73.5,231.53 L74,231.53 L74.5,231.52 L75,231.48 L75.5,231.42 L76,231.34 L76.5,231.24 L77,231.11 L77.5,230.96 L78,230.78 L78.5,230.57 L79,230.34 L79.5,230.08 L80,229.8 L80.5,229.5 L81,229.18 L81.5,228.84 L82,228.48 L82.5,228.11 L83,227.72 L83.5,227.33 L84,226.93 L84.5,226.52 L85,226.12 L85.5,225.73 L86,225.36 L86.5,225 L87,224.67 L87.5,224.38 L88,224.12 L88.5,223.91 L89,223.74 L89.5,223.62 L90,223.56 L90.5,223.56 L91,223.62 L91.5,223.73 L92,223.89 L92.5,224.09 L93,224.33 L93.5,224.6 L94,224.92 L94.5,225.28 L95,225.67 L95.5,226.09 L96,226.55 L96.5,227.04 L97,227.55 L97.5,228.09 L98,228.66 L98.5,229.24 L99,229.84 L99.5,230.45 L100,231.07 L100.5,231.7 L101,232.34 L101.5,232.98 L102,233.62 L102.5,234.26 L103,234.9 L103.5,235.53 L104,236.15 L104.5,236.77 L105,237.38 L105.5,237.97 L106,238.56 L106.5,239.13 L107,239.69 L107.5,240.23 L108,240.76 L108.5,241.28 L109,241.78 L109.5,242.27 L110,242.75 L110.5,243.22 L111,243.68 L111.5,244.12 L112,244.56 L112.5,244.99 L113,245.42 L113.5,245.84 L114,246.27 L114.5,246.7 L115,247.13 L115.5,247.55 L116,247.97 L116.5,248.39 L117,248.8 L117.5,249.21 L118,249.6 L118.5,249.98 L119,250.35 L119.5,250.71 L120,251.04 L120.5,251.37 L121,251.68 L121.5,251.98 L122,252.28 L122.5,252.57 L123,252.85 L123.5,253.13 L124,253.41 L124.5,253.68" fill="none" stroke="#ff8c19" stroke-width="1.35" stroke-linejoin="round" stroke-linecap="round" />
<path d="M80.5,234.94 L81,235.09 L81.5,235.24 L82,235.39 L82.5,235.53 L83,235.67 L83.5,235.81 L84,235.93 L84.5,236.05 L85,236.16 L85.5,236.26 L86,236.36 L86.5,236.46 L87,236.55 L87.5,236.64 L88,236.73 L88.5,236.82 L89,236.9 L89.5,236.99 L90,237.07 L90.5,237.15 L91,237.22 L91.5,237.28 L92,237.33 L92.5,237.37 L93,237.39 L93.5,237.4 L94,237.38 L94.5,237.34 L95,237.28 L95.5,237.19 L96,237.06 L96.5,236.9 L97,236.71 L97.5,236.47 L98,236.19 L98.5,235.86 L99,235.48 L99.5,235.04 L100,234.55 L100.5,233.99 L101,233.37 L101.5,232.68 L102,231.93 L102.5,231.12 L103,230.24 L103.5,229.29 L104,228.29 L104.5,227.23 L105,226.11 L105.5,224.94 L106,223.74 L106.5,222.49 L107,221.22 L107.5,219.93 L108,218.63 L108.5,217.33 L109,216.05 L109.5,214.8 L110,213.6 L110.5,212.44 L111,211.36 L111.5,210.35 L112,209.44 L112.5,208.64 L113,207.95 L113.5,207.4 L114,206.99 L114.5,206.73 L115,206.63 L115.5,206.68 L116,206.89 L116.5,207.25 L117,207.72 L117.5,208.3 L118,208.97 L118.5,209.74 L119,210.6 L119.5,211.54 L120,212.55 L120.5,213.64 L121,214.81 L121.5,216.03 L122,217.32 L122.5,218.66 L123,220.05 L123.5,221.48 L124,222.95 L124.5,224.44 L125,225.96 L125.5,227.49 L126,229.03 L126.5,230.57 L127,232.11 L127.5,233.65 L128,235.17 L128.5,236.67 L129,238.16 L129.5,239.62 L130,241.05 L130.5,242.45 L131,243.82 L131.5,245.16 L132,246.46 L132.5,247.71 L133,248.93 L133.5,250.1 L134,251.24 L134.5,252.32 L135,253.37 L135.5,254.38 L136,255.34 L136.5,256.26 L137,257.14 L137.5,257.99 L138,258.79 L138.5,259.56 L139,260.3 L139.5,261.01 L140,261.68 L140.5,262.33 L141,262.95 L141.5,263.54 L142,264.1 L142.5,264.65 L143,265.18 L143.5,265.7 L144,266.2 L144.5,266.69 L145,267.16 L145.5,267.63 L146,268.08 L146.5,268.53 L147,268.96 L147.5,269.39 L148,269.82 L148.5,270.24 L149,270.65 L149.5,271.06" fill="none" stroke="#19f0f0" stroke-width="1.35" stroke-linejoin="round" stroke-linecap="round" />
<path d="M130.5,257.09 L131,257.41 L131.5,257.74 L132,258.07 L132.5,258.41 L133,258.75 L133.5,259.09 L134,259.44 L134.5,259.79 L135,260.14 L135.5,260.49 L136,260.84 L136.5,261.19 L137,261.54 L137.5,261.89 L138,262.23 L138.5,262.56 L139,262.89 L139.5,263.21 L140,263.52 L140.5,263.82 L141,264.11 L141.5,264.38 L142,264.64 L142.5,264.88 L143,265.1 L143.5,265.31 L144,265.5 L144.5,265.66 L145,265.8 L145.5,265.91 L146,265.99 L146.5,266.03 L147,266.05 L147.5,266.02 L148,265.95 L148.5,265.85 L149,265.69 L149.5,265.49 L150,265.24 L150.5,264.93 L151,264.57 L151.5,264.15 L152,263.68 L152.5,263.15 L153,262.55 L153.5,261.9 L154,261.19 L154.5,260.42 L155,259.59 L155.5,258.71 L156,257.78 L156.5,256.79 L157,255.76 L157.5,254.69 L158,253.58 L158.5,252.44 L159,251.28 L159.5,250.09 L160,248.9 L160.5,247.7 L161,246.5 L161.5,245.32 L162,244.17 L162.5,243.04 L163,241.96 L163.5,240.92 L164,239.94 L164.5,239.03 L165,238.2 L165.5,237.45 L166,236.8 L166.5,236.24 L167,235.8 L167.5,235.47 L168,235.26 L168.5,235.18 L169,235.22 L169.5,235.4 L170,235.71 L170.5,236.13 L171,236.64 L171.5,237.23 L172,237.9 L172.5,238.65 L173,239.49 L173.5,240.4 L174,241.39 L174.5,242.45 L175,243.58 L175.5,244.78 L176,246.04 L176.5,247.36 L177,248.73 L177.5,250.15 L178,251.61 L178.5,253.11 L179,254.65 L179.5,256.22 L180,257.81 L180.5,259.42 L181,261.05 L181.5,262.69 L182,264.34 L182.5,265.98 L183,267.63 L183.5,269.26 L184,270.89 L184.5,272.5 L185,274.09 L185.5,275.66 L186,277.2 L186.5,278.72 L187,280.22 L187.5,281.68 L188,283.11 L188.5,284.51 L189,285.88 L189.5,287.21 L190,288.5 L190.5,289.75 L191,290.97 L191.5,292.15 L192,293.29 L192.5,294.39 L193,295.46 L193.5,296.48 L194,297.47 L194.5,298.42 L195,299.34 L195.5,300.21 L196,301.06 L196.5,301.87 L197,302.65 L197.5,303.4 L198,304.12 L198.5,304.81 L199,305.47 L199.5,306.11 L200,306.73 L200.5,307.32 L201,307.89 L201.5,308.45 L202,308.98 L202.5,309.49 L203,309.98 L203.5,310.46 L204,310.92 L204.5,311.37 L205,311.79 L205.5,312.21 L206,312.61 L206.5,312.99 L207,313.37 L207.5,313.73 L208,314.08 L208.5,314.41 L209,314.73 L209.5,315.05 L210,315.35 L210.5,315.64 L211,315.91 L211.5,316.18 L212,316.43 L212.5,316.66 L213,316.89 L213.5,317.1 L214,317.3 L214.5,317.49 L215,317.67 L215.5,317.84 L216,318 L216.5,318.15 L217,318.29 L217.5,318.42" fill="none" stroke="#19e619" stroke-width="1.35" stroke-linejoin="round" stroke-linecap="round" />
<path d="M160.5,279.54 L161,279.91 L161.5,280.27 L162,280.63 L162.5,280.99 L163,281.34 L163.5,281.68 L164,282.01 L164.5,282.33 L165,282.63 L165.5,282.92 L166,283.19 L166.5,283.43 L167,283.65 L167.5,283.84 L168,284 L168.5,284.11 L169,284.18 L169.5,284.2 L170,284.15 L170.5,284.04 L171,283.86 L171.5,283.59 L172,283.22 L172.5,282.76 L173,282.18 L173.5,281.48 L174,280.65 L174.5,279.67 L175,278.55 L175.5,277.27 L176,275.82 L176.5,274.19 L177,272.4 L177.5,270.43 L178,268.28 L178.5,265.96 L179,263.48 L179.5,260.83 L180,258.05 L180.5,255.14 L181,252.11 L181.5,249 L182,245.83 L182.5,242.63 L183,239.42 L183.5,236.25 L184,233.14 L184.5,230.12 L185,227.25 L185.5,224.54 L186,222.05 L186.5,219.8 L187,217.83 L187.5,216.16 L188,214.82 L188.5,213.84 L189,213.23 L189.5,213.01 L190,213.18 L190.5,213.71 L191,214.57 L191.5,215.75 L192,217.25 L192.5,219.05 L193,221.13 L193.5,223.48 L194,226.08 L194.5,228.9 L195,231.92 L195.5,235.11 L196,238.44 L196.5,241.89 L197,245.43 L197.5,249.03 L198,252.66 L198.5,256.3 L199,259.92 L199.5,263.51 L200,267.04 L200.5,270.49 L201,273.85 L201.5,277.1 L202,280.23 L202.5,283.22 L203,286.08 L203.5,288.79 L204,291.35 L204.5,293.75 L205,296.01 L205.5,298.12 L206,300.08 L206.5,301.89 L207,303.57 L207.5,305.11 L208,306.53 L208.5,307.83 L209,309.02 L209.5,310.1 L210,311.08 L210.5,311.97 L211,312.78 L211.5,313.51 L212,314.16 L212.5,314.75 L213,315.27 L213.5,315.75 L214,316.17 L214.5,316.55 L215,316.89 L215.5,317.19 L216,317.47 L216.5,317.71 L217,317.94 L217.5,318.14 L218,318.32 L218.5,318.48 L219,318.63 L219.5,318.77 L220,318.89 L220.5,319 L221,319.08 L221.5,319.15 L222,319.2 L222.5,319.24 L223,319.26 L223.5,319.28 L224,319.28 L224.5,319.28 L225,319.28 L225.5,319.28 L226,319.28 L226.5,319.27 L227,319.28" fill="none" stroke="#1a1aff" stroke-width="1.35" stroke-linejoin="round" stroke-linecap="round" />
<path d="M31,218.9 L31.5,218.88 L32,218.87 L32.5,218.85 L33,218.84 L33.5,218.84 L34,218.86 L34.5,218.9 L35,218.95 L35.5,219.01 L36,219.08 L36.5,219.14 L37,219.22 L37.5,219.29 L38,219.37 L38.5,219.46 L39,219.56 L39.5,219.66 L40,219.76 L40.5,219.88 L41,220 L41.5,220.14 L42,220.3 L42.5,220.48 L43,220.67 L43.5,220.87 L44,221.08 L44.5,221.28 L45,221.48 L45.5,221.68 L46,221.88 L46.5,222.09 L47,222.31 L47.5,222.52 L48,222.73 L48.5,222.93 L49,223.11 L49.5,223.27 L50,223.41 L50.5,223.53 L51,223.63 L51.5,223.73 L52,223.81 L52.5,223.89 L53,223.97 L53.5,224.06 L54,224.15 L54.5,224.26 L55,224.37 L55.5,224.51 L56,224.67 L56.5,224.85 L57,225.08 L57.5,225.33 L58,225.6 L58.5,225.9 L59,226.2 L59.5,226.5 L60,226.81 L60.5,227.1 L61,227.39 L61.5,227.68 L62,227.97 L62.5,228.27 L63,228.57 L63.5,228.87 L64,229.16 L64.5,229.46 L65,229.76 L65.5,230.06 L66,230.36 L66.5,230.66 L67,230.97 L67.5,231.29 L68,231.61 L68.5,231.92 L69,232.23 L69.5,232.54 L70,232.83 L70.5,233.1 L71,233.36 L71.5,233.59 L72,233.8 L72.5,233.97 L73,234.1 L73.5,234.21 L74,234.27 L74.5,234.3 L75,234.3 L75.5,234.29 L76,234.25 L76.5,234.17 L77,234.05 L77.5,233.86 L78,233.6 L78.5,233.24 L79,232.77 L79.5,232.22 L80,231.62 L80.5,231 L81,230.4 L81.5,229.77 L82,229.08 L82.5,228.37 L83,227.67 L83.5,227.03 L84,226.49 L84.5,226.04 L85,225.63 L85.5,225.24 L86,224.87 L86.5,224.53 L87,224.21 L87.5,223.92 L88,223.65 L88.5,223.4 L89,223.19 L89.5,223 L90,222.85 L90.5,222.74 L91,222.68 L91.5,222.64 L92,222.62 L92.5,222.62 L93,222.62 L93.5,222.63 L94,222.63 L94.5,222.62 L95,222.59 L95.5,222.57 L96,222.57 L96.5,222.57 L97,222.58 L97.5,222.58 L98,222.57 L98.5,222.54 L99,222.48 L99.5,222.39 L100,222.26 L100.5,222.09 L101,221.88 L101.5,221.63 L102,221.35 L102.5,221.04 L103,220.68 L103.5,220.29 L104,219.86 L104.5,219.4 L105,218.89 L105.5,218.34 L106,217.74 L106.5,217.11 L107,216.46 L107.5,215.78 L108,215.1 L108.5,214.41 L109,213.73 L109.5,213.05 L110,212.4 L110.5,211.74 L111,211.06 L111.5,210.37 L112,209.71 L112.5,209.08 L113,208.51 L113.5,208.02 L114,207.63 L114.5,207.34 L115,207.16 L115.5,207.08 L116,207.09 L116.5,207.2 L117,207.46 L117.5,207.9 L118,208.48 L118.5,209.18 L119,210.08 L119.5,211.23 L120,212.63 L120.5,214.16 L121,215.79 L121.5,217.51 L122,219.28 L122.5,221.1 L123,222.93 L123.5,224.82 L124,226.83 L124.5,228.91 L125,231 L125.5,233.05 L126,235 L126.5,236.85 L127,238.65 L127.5,240.4 L128,242.11 L128.5,243.79 L129,245.43 L129.5,247.05 L130,248.66 L130.5,250.22 L131,251.71 L131.5,253.11 L132,254.4 L132.5,255.57 L133,256.6 L133.5,257.5 L134,258.26 L134.5,258.92 L135,259.52 L135.5,260.09 L136,260.61 L136.5,261.1 L137,261.56 L137.5,261.99 L138,262.39 L138.5,262.77 L139,263.12 L139.5,263.44 L140,263.72 L140.5,263.98 L141,264.21 L141.5,264.43 L142,264.63 L142.5,264.82 L143,265.02 L143.5,265.22 L144,265.42 L144.5,265.6 L145,265.74 L145.5,265.83 L146,265.86 L146.5,265.8 L147,265.66 L147.5,265.46 L148,265.2 L148.5,264.88 L149,264.51 L149.5,264.08 L150,263.61 L150.5,263.08 L151,262.49 L151.5,261.84 L152,261.15 L152.5,260.42 L153,259.67 L153.5,258.91 L154,258.17 L154.5,257.44 L155,256.74 L155.5,256.05 L156,255.37 L156.5,254.69 L157,254.01 L157.5,253.32 L158,252.62 L158.5,251.92 L159,251.2 L159.5,250.46 L160,249.7 L160.5,248.91 L161,248.1 L161.5,247.27 L162,246.42 L162.5,245.55 L163,244.67 L163.5,243.79 L164,242.91 L164.5,242.02 L165,241.11 L165.5,240.16 L166,239.19 L166.5,238.23 L167,237.3 L167.5,236.42 L168,235.6 L168.5,234.85 L169,234.16 L169.5,233.51 L170,232.88 L170.5,232.26 L171,231.64 L171.5,231 L172,230.32 L172.5,229.6 L173,228.87 L173.5,228.16 L174,227.44 L174.5,226.69 L175,225.88 L175.5,224.98 L176,223.96 L176.5,222.8 L177,221.42 L177.5,219.82 L178,218.06 L178.5,216.22 L179,214.39 L179.5,212.62 L180,211 L180.5,209.52 L181,208.1 L181.5,206.74 L182,205.43 L182.5,204.15 L183,202.9 L183.5,201.66 L184,200.45 L184.5,199.31 L185,198.3 L185.5,197.44 L186,196.72 L186.5,196.13 L187,195.69 L187.5,195.43 L188,195.37 L188.5,195.53 L189,195.89 L189.5,196.46 L190,197.25 L190.5,198.27 L191,199.52 L191.5,201 L192,202.84 L192.5,205.06 L193,207.5 L193.5,210.06 L194,212.96 L194.5,216.49 L195,220.44 L195.5,224.61 L196,228.84 L196.5,233 L197,237.14 L197.5,241.32 L198,245.41 L198.5,249.27 L199,252.82 L199.5,256.14 L200,259.36 L200.5,262.55 L201,265.82 L201.5,269.28 L202,273.02 L202.5,277.04 L203,281.18 L203.5,285.29 L204,289.24 L204.5,292.93 L205,296.36 L205.5,299.43 L206,302.14 L206.5,304.58 L207,306.7 L207.5,308.47 L208,309.99 L208.5,311.31 L209,312.47 L209.5,313.5 L210,314.41 L210.5,315.21 L211,315.89 L211.5,316.48 L212,317 L212.5,317.44 L213,317.82 L213.5,318.13 L214,318.4 L214.5,318.61 L215,318.8 L215.5,318.95 L216,319.07 L216.5,319.16 L217,319.22 L217.5,319.27 L218,319.31 L218.5,319.35 L219,319.4 L219.5,319.45 L220,319.48 L220.5,319.51 L221,319.54 L221.5,319.56 L222,319.57 L222.5,319.59 L223,319.6 L223.5,319.61 L224,319.61 L224.5,319.62 L225,319.61 L225.5,319.61 L226,319.61 L226.5,319.6 L227,319.6" fill="none" stroke="#4a1212" stroke-width="1.6" stroke-linejoin="round" stroke-linecap="round" />
<path d="M31,216.15 L31.5,216.4 L32,216.65 L32.5,216.9 L33,217.16 L33.5,217.41 L34,217.67 L34.5,217.92 L35,218.18 L35.5,218.43 L36,218.68 L36.5,218.92 L37,219.16 L37.5,219.4 L38,219.64 L38.5,219.87 L39,220.09 L39.5,220.31 L40,220.53 L40.5,220.74 L41,220.96 L41.5,221.17 L42,221.39 L42.5,221.6 L43,221.8 L43.5,222.01 L44,222.21 L44.5,222.42 L45,222.62 L45.5,222.82 L46,223.02 L46.5,223.21 L47,223.41 L47.5,223.6 L48,223.8 L48.5,223.99 L49,224.17 L49.5,224.36 L50,224.55 L50.5,224.73 L51,224.91 L51.5,225.09 L52,225.26 L52.5,225.43 L53,225.6 L53.5,225.77 L54,225.94 L54.5,226.11 L55,226.27 L55.5,226.44 L56,226.6 L56.5,226.76 L57,226.93 L57.5,227.09 L58,227.26 L58.5,227.42 L59,227.59 L59.5,227.76 L60,227.93 L60.5,228.1 L61,228.27 L61.5,228.45 L62,228.62 L62.5,228.8 L63,228.98 L63.5,229.15 L64,229.33 L64.5,229.51 L65,229.69 L65.5,229.87 L66,230.05 L66.5,230.22 L67,230.4 L67.5,230.58 L68,230.76 L68.5,230.93 L69,231.11 L69.5,231.28 L70,231.46 L70.5,231.63 L71,231.8 L71.5,231.97 L72,232.14 L72.5,232.31 L73,232.48 L73.5,232.65 L74,232.81 L74.5,232.98 L75,233.15 L75.5,233.32 L76,233.49 L76.5,233.65 L77,233.82 L77.5,233.98 L78,234.15 L78.5,234.31 L79,234.47 L79.5,234.63 L80,234.79 L80.5,234.94 L81,235.09 L81.5,235.25 L82,235.39 L82.5,235.54 L83,235.69 L83.5,235.82 L84,235.95 L84.5,236.07 L85,236.19 L85.5,236.3 L86,236.41 L86.5,236.52 L87,236.63 L87.5,236.73 L88,236.84 L88.5,236.96 L89,237.07 L89.5,237.19 L90,237.32 L90.5,237.45 L91,237.59 L91.5,237.73 L92,237.87 L92.5,238.01 L93,238.15 L93.5,238.3 L94,238.45 L94.5,238.6 L95,238.75 L95.5,238.9 L96,239.06 L96.5,239.23 L97,239.39 L97.5,239.56 L98,239.73 L98.5,239.91 L99,240.09 L99.5,240.27 L100,240.45 L100.5,240.64 L101,240.83 L101.5,241.03 L102,241.22 L102.5,241.42 L103,241.63 L103.5,241.83 L104,242.04 L104.5,242.26 L105,242.48 L105.5,242.7 L106,242.93 L106.5,243.16 L107,243.39 L107.5,243.62 L108,243.86 L108.5,244.1 L109,244.35 L109.5,244.6 L110,244.85 L110.5,245.11 L111,245.38 L111.5,245.65 L112,245.93 L112.5,246.21 L113,246.5 L113.5,246.8 L114,247.12 L114.5,247.44 L115,247.78 L115.5,248.13 L116,248.48 L116.5,248.83 L117,249.19 L117.5,249.54 L118,249.89 L118.5,250.23 L119,250.57 L119.5,250.89 L120,251.2 L120.5,251.5 L121,251.79 L121.5,252.08 L122,252.36 L122.5,252.64 L123,252.91 L123.5,253.18 L124,253.45 L124.5,253.71 L125,253.98 L125.5,254.25 L126,254.52 L126.5,254.78 L127,255.06 L127.5,255.33 L128,255.61 L128.5,255.9 L129,256.19 L129.5,256.49 L130,256.79 L130.5,257.11 L131,257.43 L131.5,257.76 L132,258.1 L132.5,258.44 L133,258.79 L133.5,259.14 L134,259.5 L134.5,259.86 L135,260.23 L135.5,260.6 L136,260.97 L136.5,261.34 L137,261.72 L137.5,262.1 L138,262.48 L138.5,262.86 L139,263.24 L139.5,263.62 L140,264 L140.5,264.37 L141,264.75 L141.5,265.13 L142,265.5 L142.5,265.87 L143,266.25 L143.5,266.63 L144,267.01 L144.5,267.39 L145,267.77 L145.5,268.15 L146,268.53 L146.5,268.91 L147,269.29 L147.5,269.68 L148,270.06 L148.5,270.44 L149,270.83 L149.5,271.21 L150,271.59 L150.5,271.97 L151,272.36 L151.5,272.74 L152,273.12 L152.5,273.5 L153,273.88 L153.5,274.26 L154,274.64 L154.5,275.02 L155,275.4 L155.5,275.78 L156,276.16 L156.5,276.54 L157,276.92 L157.5,277.3 L158,277.68 L158.5,278.06 L159,278.44 L159.5,278.82 L160,279.2 L160.5,279.58 L161,279.96 L161.5,280.34 L162,280.71 L162.5,281.09 L163,281.47 L163.5,281.85 L164,282.23 L164.5,282.6 L165,282.98 L165.5,283.35 L166,283.72 L166.5,284.09 L167,284.46 L167.5,284.84 L168,285.21 L168.5,285.58 L169,285.96 L169.5,286.33 L170,286.71 L170.5,287.09 L171,287.47 L171.5,287.86 L172,288.25 L172.5,288.64 L173,289.04 L173.5,289.44 L174,289.84 L174.5,290.25 L175,290.66 L175.5,291.07 L176,291.49 L176.5,291.91 L177,292.32 L177.5,292.74 L178,293.16 L178.5,293.58 L179,294 L179.5,294.42 L180,294.84 L180.5,295.26 L181,295.68 L181.5,296.09 L182,296.51 L182.5,296.92 L183,297.32 L183.5,297.73 L184,298.13 L184.5,298.52 L185,298.91 L185.5,299.3 L186,299.68 L186.5,300.06 L187,300.44 L187.5,300.82 L188,301.2 L188.5,301.57 L189,301.94 L189.5,302.31 L190,302.68 L190.5,303.04 L191,303.41 L191.5,303.77 L192,304.13 L192.5,304.48 L193,304.84 L193.5,305.19 L194,305.54 L194.5,305.89 L195,306.24 L195.5,306.58 L196,306.92 L196.5,307.26 L197,307.6 L197.5,307.93 L198,308.27 L198.5,308.6 L199,308.93 L199.5,309.26 L200,309.59 L200.5,309.92 L201,310.25 L201.5,310.58 L202,310.9 L202.5,311.23 L203,311.55 L203.5,311.87 L204,312.18 L204.5,312.5 L205,312.81 L205.5,313.11 L206,313.42 L206.5,313.71 L207,314.01 L207.5,314.29 L208,314.58 L208.5,314.85 L209,315.13 L209.5,315.39 L210,315.65 L210.5,315.9 L211,316.15 L211.5,316.38 L212,316.61 L212.5,316.82 L213,317.03 L213.5,317.22 L214,317.41 L214.5,317.58 L215,317.75 L215.5,317.91 L216,318.06 L216.5,318.2 L217,318.33 L217.5,318.46 L218,318.58 L218.5,318.69 L219,318.8 L219.5,318.9 L220,319 L220.5,319.08 L221,319.15 L221.5,319.2 L222,319.24 L222.5,319.27 L223,319.29 L223.5,319.3 L224,319.3 L224.5,319.3 L225,319.29 L225.5,319.29 L226,319.28 L226.5,319.28 L227,319.28" fill="none" stroke="#ff19ff" stroke-width="1.35" stroke-linejoin="round" stroke-linecap="round" />
<text x="76.9" y="213.4" font-size="9" text-anchor="start" >S</text>
<text x="86" y="197.8" font-size="9" text-anchor="start" >Fe2p1/2</text>
<text x="155.9" y="225.3" font-size="9" text-anchor="start" >S</text>
<text x="195.4" y="199.4" font-size="9" text-anchor="start" >Fe2p3/2</text>
<line x1="83.1" y1="213" x2="88.5" y2="221.3" stroke="#111" stroke-width="0.8"/>
<path d="M88.5,221.3 L85.74,219.28 L87.77,217.95 Z" fill="#111"/>
<line x1="105.7" y1="199.9" x2="110.5" y2="208.2" stroke="#111" stroke-width="0.8"/>
<path d="M110.5,208.2 L107.85,206.04 L109.95,204.82 Z" fill="#111"/>
<line x1="162.4" y1="227.6" x2="167.5" y2="235.8" stroke="#111" stroke-width="0.8"/>
<path d="M167.5,235.8 L164.78,233.72 L166.84,232.44 Z" fill="#111"/>
<path d="M262,319.46 L262.5,319.47 L263,319.48 L263.5,319.48 L264,319.49 L264.5,319.5 L265,319.51 L265.5,319.52 L266,319.53 L266.5,319.53 L267,319.54 L267.5,319.55 L268,319.56 L268.5,319.57 L269,319.57 L269.5,319.58 L270,319.59 L270.5,319.6 L271,319.61 L271.5,319.61 L272,319.62 L272.5,319.63 L273,319.64 L273.5,319.65 L274,319.65 L274.5,319.66 L275,319.67 L275.5,319.68 L276,319.69 L276.5,319.69 L277,319.7 L277.5,319.71 L278,319.72 L278.5,319.73 L279,319.73 L279.5,319.74 L280,319.75 L280.5,319.76 L281,319.76 L281.5,319.77 L282,319.78 L282.5,319.79 L283,319.8 L283.5,319.8 L284,319.81 L284.5,319.82 L285,319.83 L285.5,319.83 L286,319.84 L286.5,319.85 L287,319.86 L287.5,319.86 L288,319.87 L288.5,319.88 L289,319.89 L289.5,319.89 L290,319.9 L290.5,319.91 L291,319.92 L291.5,319.92 L292,319.93 L292.5,319.94 L293,319.95 L293.5,319.95 L294,319.96 L294.5,319.97 L295,319.98 L295.5,319.98 L296,319.99 L296.5,320 L297,320.01 L297.5,320.01 L298,320.02 L298.5,320.03 L299,320.03 L299.5,320.04 L300,320.05 L300.5,320.05 L301,320.06 L301.5,320.07 L302,320.07 L302.5,320.08 L303,320.09 L303.5,320.09 L304,320.1 L304.5,320.11 L305,320.11 L305.5,320.12 L306,320.13 L306.5,320.13 L307,320.14 L307.5,320.15 L308,320.15 L308.5,320.16 L309,320.16 L309.5,320.17 L310,320.18 L310.5,320.18 L311,320.19 L311.5,320.19 L312,320.2 L312.5,320.21 L313,320.21 L313.5,320.22 L314,320.22 L314.5,320.23 L315,320.23 L315.5,320.24 L316,320.24 L316.5,320.25 L317,320.25 L317.5,320.26 L318,320.26 L318.5,320.27 L319,320.27 L319.5,320.27 L320,320.28 L320.5,320.28 L321,320.29 L321.5,320.29 L322,320.29 L322.5,320.3 L323,320.3 L323.5,320.3 L324,320.3 L324.5,320.31 L325,320.31 L325.5,320.31 L326,320.31 L326.5,320.32 L327,320.32 L327.5,320.32 L328,320.32 L328.5,320.32 L329,320.32 L329.5,320.32 L330,320.32 L330.5,320.32 L331,320.31 L331.5,320.31 L332,320.31 L332.5,320.3 L333,320.3 L333.5,320.29 L334,320.28 L334.5,320.27 L335,320.26 L335.5,320.24 L336,320.22 L336.5,320.2 L337,320.17 L337.5,320.14 L338,320.1 L338.5,320.05 L339,320 L339.5,319.93 L340,319.85 L340.5,319.75 L341,319.64 L341.5,319.5 L342,319.34 L342.5,319.15 L343,318.93 L343.5,318.67 L344,318.37 L344.5,318.02 L345,317.62 L345.5,317.15 L346,316.62 L346.5,316.01 L347,315.31 L347.5,314.52 L348,313.62 L348.5,312.61 L349,311.48 L349.5,310.21 L350,308.81 L350.5,307.25 L351,305.53 L351.5,303.64 L352,301.58 L352.5,299.34 L353,296.91 L353.5,294.29 L354,291.48 L354.5,288.48 L355,285.29 L355.5,281.92 L356,278.38 L356.5,274.68 L357,270.82 L357.5,266.84 L358,262.74 L358.5,258.55 L359,254.3 L359.5,250.01 L360,245.72 L360.5,241.45 L361,237.24 L361.5,233.12 L362,229.13 L362.5,225.31 L363,221.7 L363.5,218.33 L364,215.24 L364.5,212.45 L365,210.01 L365.5,207.93 L366,206.26 L366.5,204.99 L367,204.16 L367.5,203.77 L368,203.82 L368.5,204.35 L369,205.33 L369.5,206.76 L370,208.63 L370.5,210.9 L371,213.54 L371.5,216.54 L372,219.85 L372.5,223.43 L373,227.25 L373.5,231.27 L374,235.44 L374.5,239.74 L375,244.11 L375.5,248.52 L376,252.94 L376.5,257.34 L377,261.67 L377.5,265.92 L378,270.06 L378.5,274.07 L379,277.92 L379.5,281.6 L380,285.11 L380.5,288.43 L381,291.55 L381.5,294.47 L382,297.19 L382.5,299.71 L383,302.04 L383.5,304.17 L384,306.12 L384.5,307.9 L385,309.51 L385.5,310.95 L386,312.25 L386.5,313.42 L387,314.45 L387.5,315.37 L388,316.18 L388.5,316.89 L389,317.51 L389.5,318.06 L390,318.53 L390.5,318.94 L391,319.3 L391.5,319.61 L392,319.88 L392.5,320.1 L393,320.3 L393.5,320.47 L394,320.62 L394.5,320.74 L395,320.85 L395.5,320.94 L396,321.02 L396.5,321.09 L397,321.15 L397.5,321.2 L398,321.25 L398.5,321.29 L399,321.33 L399.5,321.37 L400,321.4 L400.5,321.43 L401,321.45 L401.5,321.48 L402,321.5 L402.5,321.52 L403,321.54 L403.5,321.57 L404,321.58 L404.5,321.6 L405,321.62 L405.5,321.64 L406,321.66 L406.5,321.67 L407,321.69 L407.5,321.71 L408,321.72 L408.5,321.74 L409,321.75 L409.5,321.77 L410,321.79 L410.5,321.8 L411,321.81 L411.5,321.83 L412,321.84 L412.5,321.86 L413,321.87 L413.5,321.88 L414,321.9 L414.5,321.91 L415,321.92 L415.5,321.94 L416,321.95 L416.5,321.96 L417,321.98 L417.5,321.99 L418,322 L418.5,322.01 L419,322.03 L419.5,322.04 L420,322.05 L420.5,322.06 L421,322.07 L421.5,322.09 L422,322.1 L422.5,322.11 L423,322.12 L423.5,322.13 L424,322.14 L424.5,322.16 L425,322.17 L425.5,322.18 L426,322.19 L426.5,322.2 L427,322.21 L427.5,322.22 L428,322.23 L428.5,322.24 L429,322.26 L429.5,322.27 L430,322.28 L430.5,322.29 L431,322.3 L431.5,322.31 L432,322.32 L432.5,322.33 L433,322.34 L433.5,322.35 L434,322.36 L434.5,322.37 L435,322.38 L435.5,322.39 L436,322.4 L436.5,322.41 L437,322.42 L437.5,322.43 L438,322.44 L438.5,322.45 L439,322.46 L439.5,322.47 L440,322.48 L440.5,322.49 L441,322.5 L441.5,322.51 L442,322.52 L442.5,322.53 L443,322.54 L443.5,322.55 L444,322.56 L444.5,322.57 L445,322.58 L445.5,322.59 L446,322.6 L446.5,322.61 L447,322.62 L447.5,322.63 L448,322.64 L448.5,322.65 L449,322.66 L449.5,322.67 L450,322.68 L450.5,322.69 L451,322.7 L451.5,322.71 L452,322.72 L452.5,322.72 L453,322.73 L453.5,322.74 L454,322.75 L454.5,322.76 L455,322.77 L455.5,322.78 L456,322.79 L456.5,322.8 L457,322.81 L457.5,322.82 L458,322.83" fill="none" stroke="#1a1aff" stroke-width="1.35" stroke-linejoin="round" stroke-linecap="round" />
<path d="M262,320.76 L262.5,320.88 L263,320.74 L263.5,321.02 L264,321.05 L264.5,321.01 L265,321.12 L265.5,321.13 L266,321.66 L266.5,321.75 L267,321.82 L267.5,321.5 L268,321.4 L268.5,321.29 L269,321.22 L269.5,321.23 L270,321.2 L270.5,321.21 L271,321.02 L271.5,320.91 L272,320.82 L272.5,320.74 L273,320.54 L273.5,320.24 L274,320.08 L274.5,320.09 L275,319.85 L275.5,319.55 L276,319.23 L276.5,318.95 L277,318.75 L277.5,318.59 L278,318.6 L278.5,318.52 L279,318.4 L279.5,318 L280,317.99 L280.5,317.77 L281,317.81 L281.5,317.69 L282,317.79 L282.5,317.87 L283,317.74 L283.5,317.67 L284,317.73 L284.5,317.98 L285,318.1 L285.5,318.18 L286,318.23 L286.5,318.23 L287,318.22 L287.5,318.26 L288,318.42 L288.5,318.57 L289,318.52 L289.5,318.57 L290,318.45 L290.5,318.66 L291,318.78 L291.5,318.95 L292,318.98 L292.5,318.95 L293,319.26 L293.5,319.16 L294,319.25 L294.5,319.33 L295,319.68 L295.5,319.63 L296,319.57 L296.5,319.54 L297,319.7 L297.5,319.89 L298,319.76 L298.5,319.83 L299,319.58 L299.5,319.78 L300,319.72 L300.5,319.74 L301,319.43 L301.5,319.53 L302,319.58 L302.5,319.75 L303,319.65 L303.5,319.57 L304,319.39 L304.5,319.18 L305,319.03 L305.5,319.17 L306,319.08 L306.5,319.07 L307,318.9 L307.5,319.02 L308,319.11 L308.5,319.01 L309,318.83 L309.5,318.77 L310,318.98 L310.5,319.2 L311,319.22 L311.5,319.1 L312,319.07 L312.5,319.06 L313,319.19 L313.5,319.13 L314,319.22 L314.5,319.19 L315,319.37 L315.5,319.44 L316,319.74 L316.5,319.89 L317,320.07 L317.5,319.72 L318,319.61 L318.5,319.47 L319,319.73 L319.5,319.59 L320,319.75 L320.5,319.8 L321,319.85 L321.5,319.62 L322,319.39 L322.5,319.43 L323,319.49 L323.5,319.64 L324,319.53 L324.5,319.45 L325,319.19 L325.5,319.29 L326,319.22 L326.5,319.27 L327,318.99 L327.5,318.9 L328,318.72 L328.5,318.97 L329,319.08 L329.5,319.17 L330,319.05 L330.5,319.1 L331,319.12 L331.5,319.13 L332,319.18 L332.5,319.5 L333,319.58 L333.5,319.49 L334,319.15 L334.5,319.01 L335,319.03 L335.5,319.11 L336,319.11 L336.5,318.93 L337,318.69 L337.5,318.49 L338,318.09 L338.5,317.79 L339,317.53 L339.5,317.33 L340,317.06 L340.5,316.72 L341,316.51 L341.5,316.39 L342,316.2 L342.5,315.99 L343,315.77 L343.5,315.64 L344,315.56 L344.5,315.02 L345,314.71 L345.5,314.12 L346,313.84 L346.5,313.26 L347,312.71 L347.5,311.96 L348,310.94 L348.5,309.87 L349,308.48 L349.5,307.02 L350,305.35 L350.5,303.54 L351,301.78 L351.5,299.65 L352,297.55 L352.5,294.83 L353,291.99 L353.5,288.91 L354,285.89 L354.5,282.6 L355,279.17 L355.5,275.5 L356,271.93 L356.5,267.94 L357,264.02 L357.5,259.71 L358,255.5 L358.5,251.11 L359,246.8 L359.5,242.65 L360,238.6 L360.5,234.58 L361,230.6 L361.5,226.77 L362,223.08 L362.5,219.55 L363,216.15 L363.5,213.03 L364,210.45 L364.5,208.03 L365,206.32 L365.5,204.74 L366,203.9 L366.5,203.16 L367,202.86 L367.5,203.02 L368,203.69 L368.5,204.93 L369,206.55 L369.5,208.67 L370,211.16 L370.5,213.95 L371,217.15 L371.5,220.49 L372,224.32 L372.5,228.22 L373,232.68 L373.5,237.11 L374,241.45 L374.5,245.83 L375,250.19 L375.5,254.74 L376,259.2 L376.5,263.51 L377,267.68 L377.5,271.72 L378,275.71 L378.5,279.66 L379,283.19 L379.5,286.68 L380,289.95 L380.5,292.98 L381,295.68 L381.5,298.22 L382,300.68 L382.5,303.1 L383,305.15 L383.5,306.95 L384,308.4 L384.5,309.89 L385,311.54 L385.5,312.82 L386,313.93 L386.5,314.75 L387,315.63 L387.5,316.59 L388,317.17 L388.5,317.84 L389,318.17 L389.5,318.73 L390,318.97 L390.5,319.47 L391,319.73 L391.5,320.11 L392,320.12 L392.5,320.29 L393,320.54 L393.5,320.88 L394,321.16 L394.5,321.36 L395,321.46 L395.5,321.5 L396,321.56 L396.5,321.63 L397,321.69 L397.5,321.73 L398,321.84 L398.5,321.91 L399,321.84 L399.5,321.82 L400,321.98 L400.5,322 L401,321.94 L401.5,321.76 L402,321.89 L402.5,321.73 L403,321.76 L403.5,321.74 L404,321.82 L404.5,321.9 L405,321.82 L405.5,321.82 L406,321.68 L406.5,321.47 L407,321.44 L407.5,321.53 L408,321.53 L408.5,321.68 L409,321.43 L409.5,321.51 L410,321.27 L410.5,320.99 L411,320.75 L411.5,320.66 L412,320.62 L412.5,320.4 L413,320.26 L413.5,320.16 L414,319.99 L414.5,319.79 L415,319.85 L415.5,319.92 L416,320.1 L416.5,320.25 L417,320.43 L417.5,320.42 L418,320.35 L418.5,320.52 L419,320.84 L419.5,321.11 L420,321.3 L420.5,321.32 L421,321.46 L421.5,321.5 L422,321.63 L422.5,321.6 L423,321.61 L423.5,321.71 L424,321.85 L424.5,322.02 L425,322.23 L425.5,322.42 L426,322.86 L426.5,322.96 L427,322.97 L427.5,322.82 L428,322.78 L428.5,322.77 L429,322.76 L429.5,322.61 L430,322.34 L430.5,322.24 L431,322.18 L431.5,322.49 L432,322.28 L432.5,322.14 L433,322.07 L433.5,321.96 L434,322.02 L434.5,321.96 L435,322.03 L435.5,321.98 L436,321.85 L436.5,321.9 L437,321.84 L437.5,321.89 L438,321.87 L438.5,322.16 L439,322.09 L439.5,321.98 L440,321.85 L440.5,321.86 L441,321.98 L441.5,321.93 L442,322.07 L442.5,321.99 L443,321.96 L443.5,321.62 L444,321.58 L444.5,321.7 L445,321.83 L445.5,321.8 L446,321.52 L446.5,321.58 L447,321.61 L447.5,321.56 L448,321.51 L448.5,321.46 L449,321.57 L449.5,321.4 L450,321.47 L450.5,321.38 L451,321.37 L451.5,321.12 L452,321.01 L452.5,321.05 L453,321.03 L453.5,321.09 L454,321.02 L454.5,321.13 L455,321.11 L455.5,321.11 L456,320.93 L456.5,321.03 L457,321.29 L457.5,321.66 L458,321.88" fill="none" stroke="#111111" stroke-width="1.2" stroke-linejoin="round" stroke-linecap="round" />
<path d="M262,321.01 L262.5,321.09 L263,321.18 L263.5,321.27 L264,321.36 L264.5,321.45 L265,321.53 L265.5,321.61 L266,321.67 L266.5,321.71 L267,321.74 L267.5,321.74 L268,321.72 L268.5,321.67 L269,321.6 L269.5,321.52 L270,321.42 L270.5,321.3 L271,321.18 L271.5,321.04 L272,320.9 L272.5,320.75 L273,320.6 L273.5,320.45 L274,320.29 L274.5,320.09 L275,319.86 L275.5,319.62 L276,319.38 L276.5,319.16 L277,318.97 L277.5,318.82 L278,318.7 L278.5,318.58 L279,318.48 L279.5,318.38 L280,318.29 L280.5,318.22 L281,318.15 L281.5,318.1 L282,318.05 L282.5,318.02 L283,318.01 L283.5,318.01 L284,318.02 L284.5,318.06 L285,318.11 L285.5,318.18 L286,318.25 L286.5,318.33 L287,318.42 L287.5,318.51 L288,318.6 L288.5,318.68 L289,318.76 L289.5,318.83 L290,318.91 L290.5,319 L291,319.09 L291.5,319.19 L292,319.28 L292.5,319.38 L293,319.47 L293.5,319.56 L294,319.64 L294.5,319.72 L295,319.79 L295.5,319.85 L296,319.9 L296.5,319.94 L297,319.96 L297.5,319.97 L298,319.97 L298.5,319.96 L299,319.95 L299.5,319.92 L300,319.89 L300.5,319.85 L301,319.81 L301.5,319.77 L302,319.72 L302.5,319.67 L303,319.62 L303.5,319.57 L304,319.52 L304.5,319.47 L305,319.43 L305.5,319.39 L306,319.36 L306.5,319.33 L307,319.31 L307.5,319.29 L308,319.27 L308.5,319.25 L309,319.24 L309.5,319.23 L310,319.23 L310.5,319.23 L311,319.23 L311.5,319.24 L312,319.26 L312.5,319.28 L313,319.31 L313.5,319.35 L314,319.4 L314.5,319.46 L315,319.52 L315.5,319.58 L316,319.65 L316.5,319.72 L317,319.78 L317.5,319.84 L318,319.89 L318.5,319.93 L319,319.97 L319.5,319.99 L320,320 L320.5,320 L321,319.97 L321.5,319.92 L322,319.86 L322.5,319.78 L323,319.7 L323.5,319.6 L324,319.51 L324.5,319.42 L325,319.33 L325.5,319.25 L326,319.18 L326.5,319.13 L327,319.1 L327.5,319.09 L328,319.1 L328.5,319.13 L329,319.16 L329.5,319.21 L330,319.26 L330.5,319.32 L331,319.38 L331.5,319.43 L332,319.48 L332.5,319.52 L333,319.54 L333.5,319.55 L334,319.53 L334.5,319.48 L335,319.41 L335.5,319.31 L336,319.18 L336.5,319.03 L337,318.85 L337.5,318.64 L338,318.41 L338.5,318.16 L339,317.89 L339.5,317.63 L340,317.36 L340.5,317.1 L341,316.85 L341.5,316.61 L342,316.39 L342.5,316.17 L343,315.95 L343.5,315.72 L344,315.48 L344.5,315.2 L345,314.87 L345.5,314.48 L346,314 L346.5,313.42 L347,312.73 L347.5,311.9 L348,310.94 L348.5,309.82 L349,308.55 L349.5,307.12 L350,305.51 L350.5,303.73 L351,301.77 L351.5,299.62 L352,297.28 L352.5,294.76 L353,292.04 L353.5,289.13 L354,286.04 L354.5,282.77 L355,279.33 L355.5,275.72 L356,271.96 L356.5,268.06 L357,264.05 L357.5,259.93 L358,255.75 L358.5,251.51 L359,247.25 L359.5,243 L360,238.8 L360.5,234.66 L361,230.64 L361.5,226.75 L362,223.05 L362.5,219.57 L363,216.33 L363.5,213.38 L364,210.75 L364.5,208.46 L365,206.55 L365.5,205.04 L366,203.94 L366.5,203.27 L367,203.04 L367.5,203.27 L368,203.98 L368.5,205.17 L369,206.81 L369.5,208.89 L370,211.38 L370.5,214.25 L371,217.46 L371.5,220.96 L372,224.73 L372.5,228.73 L373,232.9 L373.5,237.21 L374,241.61 L374.5,246.08 L375,250.56 L375.5,255.03 L376,259.45 L376.5,263.8 L377,268.03 L377.5,272.14 L378,276.1 L378.5,279.89 L379,283.5 L379.5,286.92 L380,290.14 L380.5,293.16 L381,295.97 L381.5,298.58 L382,300.99 L382.5,303.21 L383,305.23 L383.5,307.07 L384,308.74 L384.5,310.25 L385,311.61 L385.5,312.84 L386,313.93 L386.5,314.91 L387,315.78 L387.5,316.54 L388,317.22 L388.5,317.82 L389,318.34 L389.5,318.8 L390,319.21 L390.5,319.57 L391,319.88 L391.5,320.17 L392,320.41 L392.5,320.64 L393,320.83 L393.5,321.01 L394,321.16 L394.5,321.3 L395,321.42 L395.5,321.53 L396,321.62 L396.5,321.7 L397,321.77 L397.5,321.83 L398,321.87 L398.5,321.91 L399,321.94 L399.5,321.96 L400,321.98 L400.5,321.99 L401,322 L401.5,322 L402,322 L402.5,321.99 L403,321.98 L403.5,321.97 L404,321.95 L404.5,321.93 L405,321.91 L405.5,321.89 L406,321.86 L406.5,321.84 L407,321.8 L407.5,321.76 L408,321.7 L408.5,321.63 L409,321.55 L409.5,321.47 L410,321.38 L410.5,321.29 L411,321.2 L411.5,321.09 L412,320.95 L412.5,320.8 L413,320.65 L413.5,320.5 L414,320.37 L414.5,320.26 L415,320.18 L415.5,320.15 L416,320.18 L416.5,320.27 L417,320.41 L417.5,320.58 L418,320.76 L418.5,320.93 L419,321.08 L419.5,321.21 L420,321.35 L420.5,321.49 L421,321.62 L421.5,321.75 L422,321.87 L422.5,321.99 L423,322.09 L423.5,322.21 L424,322.32 L424.5,322.44 L425,322.55 L425.5,322.66 L426,322.75 L426.5,322.83 L427,322.89 L427.5,322.93 L428,322.94 L428.5,322.93 L429,322.89 L429.5,322.85 L430,322.78 L430.5,322.71 L431,322.63 L431.5,322.55 L432,322.46 L432.5,322.38 L433,322.29 L433.5,322.22 L434,322.16 L434.5,322.11 L435,322.07 L435.5,322.05 L436,322.03 L436.5,322.03 L437,322.03 L437.5,322.03 L438,322.04 L438.5,322.05 L439,322.07 L439.5,322.08 L440,322.1 L440.5,322.11 L441,322.12 L441.5,322.13 L442,322.13 L442.5,322.13 L443,322.13 L443.5,322.11 L444,322.09 L444.5,322.06 L445,322.03 L445.5,321.99 L446,321.95 L446.5,321.9 L447,321.85 L447.5,321.79 L448,321.74 L448.5,321.68 L449,321.62 L449.5,321.56 L450,321.51 L450.5,321.45 L451,321.39 L451.5,321.34 L452,321.29 L452.5,321.24 L453,321.2 L453.5,321.15 L454,321.1 L454.5,321.07 L455,321.07 L455.5,321.12 L456,321.23 L456.5,321.38 L457,321.56 L457.5,321.75 L458,321.95" fill="none" stroke="#ff1010" stroke-width="1.45" stroke-linejoin="round" stroke-linecap="round" />
<path d="M262,319.31 L262.5,319.31 L263,319.32 L263.5,319.33 L264,319.34 L264.5,319.34 L265,319.35 L265.5,319.36 L266,319.37 L266.5,319.37 L267,319.38 L267.5,319.39 L268,319.4 L268.5,319.4 L269,319.41 L269.5,319.42 L270,319.43 L270.5,319.43 L271,319.44 L271.5,319.45 L272,319.45 L272.5,319.46 L273,319.47 L273.5,319.48 L274,319.48 L274.5,319.49 L275,319.5 L275.5,319.51 L276,319.51 L276.5,319.52 L277,319.53 L277.5,319.54 L278,319.54 L278.5,319.55 L279,319.56 L279.5,319.56 L280,319.57 L280.5,319.58 L281,319.59 L281.5,319.59 L282,319.6 L282.5,319.61 L283,319.62 L283.5,319.62 L284,319.63 L284.5,319.64 L285,319.65 L285.5,319.65 L286,319.66 L286.5,319.67 L287,319.68 L287.5,319.68 L288,319.69 L288.5,319.7 L289,319.7 L289.5,319.71 L290,319.72 L290.5,319.73 L291,319.73 L291.5,319.74 L292,319.75 L292.5,319.76 L293,319.76 L293.5,319.77 L294,319.78 L294.5,319.79 L295,319.79 L295.5,319.8 L296,319.81 L296.5,319.82 L297,319.82 L297.5,319.83 L298,319.84 L298.5,319.84 L299,319.85 L299.5,319.86 L300,319.87 L300.5,319.87 L301,319.88 L301.5,319.89 L302,319.9 L302.5,319.9 L303,319.91 L303.5,319.92 L304,319.93 L304.5,319.93 L305,319.94 L305.5,319.95 L306,319.96 L306.5,319.96 L307,319.97 L307.5,319.98 L308,319.98 L308.5,319.99 L309,320 L309.5,320.01 L310,320.01 L310.5,320.02 L311,320.03 L311.5,320.04 L312,320.04 L312.5,320.05 L313,320.06 L313.5,320.07 L314,320.07 L314.5,320.08 L315,320.09 L315.5,320.09 L316,320.1 L316.5,320.11 L317,320.12 L317.5,320.12 L318,320.13 L318.5,320.14 L319,320.15 L319.5,320.15 L320,320.16 L320.5,320.17 L321,320.18 L321.5,320.18 L322,320.19 L322.5,320.2 L323,320.21 L323.5,320.21 L324,320.22 L324.5,320.23 L325,320.23 L325.5,320.24 L326,320.25 L326.5,320.26 L327,320.26 L327.5,320.27 L328,320.28 L328.5,320.29 L329,320.29 L329.5,320.3 L330,320.31 L330.5,320.32 L331,320.32 L331.5,320.33 L332,320.34 L332.5,320.35 L333,320.35 L333.5,320.36 L334,320.37 L334.5,320.37 L335,320.38 L335.5,320.39 L336,320.4 L336.5,320.4 L337,320.41 L337.5,320.42 L338,320.43 L338.5,320.43 L339,320.44 L339.5,320.45 L340,320.46 L340.5,320.46 L341,320.47 L341.5,320.48 L342,320.49 L342.5,320.49 L343,320.5 L343.5,320.51 L344,320.51 L344.5,320.52 L345,320.53 L345.5,320.54 L346,320.54 L346.5,320.55 L347,320.56 L347.5,320.57 L348,320.57 L348.5,320.58 L349,320.59 L349.5,320.6 L350,320.6 L350.5,320.61 L351,320.62 L351.5,320.62 L352,320.63 L352.5,320.64 L353,320.65 L353.5,320.65 L354,320.66 L354.5,320.67 L355,320.68 L355.5,320.68 L356,320.69 L356.5,320.7 L357,320.71 L357.5,320.71 L358,320.72 L358.5,320.73 L359,320.74 L359.5,320.74 L360,320.75 L360.5,320.76 L361,320.76 L361.5,320.77 L362,320.78 L362.5,320.79 L363,320.79 L363.5,320.8 L364,320.81 L364.5,320.82 L365,320.82 L365.5,320.83 L366,320.84 L366.5,320.85 L367,320.85 L367.5,320.86 L368,320.87 L368.5,320.88 L369,320.88 L369.5,320.89 L370,320.9 L370.5,320.9 L371,320.91 L371.5,320.92 L372,320.93 L372.5,320.93 L373,320.94 L373.5,320.95 L374,320.96 L374.5,320.96 L375,320.97 L375.5,320.98 L376,320.99 L376.5,320.99 L377,321 L377.5,321.01 L378,321.01 L378.5,321.02 L379,321.03 L379.5,321.04 L380,321.04 L380.5,321.05 L381,321.06 L381.5,321.07 L382,321.07 L382.5,321.08 L383,321.09 L383.5,321.1 L384,321.1 L384.5,321.11 L385,321.12 L385.5,321.13 L386,321.13 L386.5,321.14 L387,321.15 L387.5,321.15 L388,321.16 L388.5,321.17 L389,321.18 L389.5,321.18 L390,321.19 L390.5,321.2 L391,321.21 L391.5,321.21 L392,321.22 L392.5,321.23 L393,321.24 L393.5,321.24 L394,321.25 L394.5,321.26 L395,321.27 L395.5,321.27 L396,321.28 L396.5,321.29 L397,321.29 L397.5,321.3 L398,321.31 L398.5,321.32 L399,321.32 L399.5,321.33 L400,321.34 L400.5,321.35 L401,321.35 L401.5,321.36 L402,321.37 L402.5,321.38 L403,321.38 L403.5,321.39 L404,321.4 L404.5,321.41 L405,321.41 L405.5,321.42 L406,321.43 L406.5,321.43 L407,321.44 L407.5,321.45 L408,321.46 L408.5,321.46 L409,321.47 L409.5,321.48 L410,321.49 L410.5,321.49 L411,321.5 L411.5,321.51 L412,321.52 L412.5,321.52 L413,321.53 L413.5,321.54 L414,321.54 L414.5,321.55 L415,321.56 L415.5,321.57 L416,321.57 L416.5,321.58 L417,321.59 L417.5,321.6 L418,321.6 L418.5,321.61 L419,321.62 L419.5,321.63 L420,321.63 L420.5,321.64 L421,321.65 L421.5,321.66 L422,321.66 L422.5,321.67 L423,321.68 L423.5,321.68 L424,321.69 L424.5,321.7 L425,321.71 L425.5,321.71 L426,321.72 L426.5,321.73 L427,321.74 L427.5,321.74 L428,321.75 L428.5,321.76 L429,321.77 L429.5,321.77 L430,321.78 L430.5,321.79 L431,321.8 L431.5,321.8 L432,321.81 L432.5,321.82 L433,321.82 L433.5,321.83 L434,321.84 L434.5,321.85 L435,321.85 L435.5,321.86 L436,321.87 L436.5,321.88 L437,321.88 L437.5,321.89 L438,321.9 L438.5,321.91 L439,321.91 L439.5,321.92 L440,321.93 L440.5,321.94 L441,321.94 L441.5,321.95 L442,321.96 L442.5,321.96 L443,321.97 L443.5,321.98 L444,321.99 L444.5,321.99 L445,322 L445.5,322.01 L446,322.02 L446.5,322.02 L447,322.03 L447.5,322.04 L448,322.05 L448.5,322.05 L449,322.06 L449.5,322.07 L450,322.07 L450.5,322.08 L451,322.09 L451.5,322.1 L452,322.1 L452.5,322.11 L453,322.12 L453.5,322.13 L454,322.13 L454.5,322.14 L455,322.15 L455.5,322.16 L456,322.16 L456.5,322.17 L457,322.18 L457.5,322.19 L458,322.19" fill="none" stroke="#ff19ff" stroke-width="1.35" stroke-linejoin="round" stroke-linecap="round" />
<text x="376" y="205.7" font-size="9" text-anchor="start" >P2p</text>
<path d="M100.5,489.54 L101,489.45 L101.5,489.36 L102,489.25 L102.5,489.13 L103,489 L103.5,488.86 L104,488.71 L104.5,488.55 L105,488.38 L105.5,488.19 L106,487.99 L106.5,487.77 L107,487.54 L107.5,487.3 L108,487.05 L108.5,486.78 L109,486.5 L109.5,486.21 L110,485.9 L110.5,485.59 L111,485.27 L111.5,484.93 L112,484.59 L112.5,484.25 L113,483.9 L113.5,483.54 L114,483.18 L114.5,482.83 L115,482.47 L115.5,482.12 L116,481.78 L116.5,481.44 L117,481.12 L117.5,480.8 L118,480.51 L118.5,480.22 L119,479.96 L119.5,479.71 L120,479.49 L120.5,479.29 L121,479.12 L121.5,478.97 L122,478.85 L122.5,478.76 L123,478.7 L123.5,478.67 L124,478.67 L124.5,478.71 L125,478.79 L125.5,478.91 L126,479.08 L126.5,479.28 L127,479.53 L127.5,479.81 L128,480.12 L128.5,480.47 L129,480.84 L129.5,481.24 L130,481.65 L130.5,482.08 L131,482.53 L131.5,482.98 L132,483.44 L132.5,483.9 L133,484.36 L133.5,484.82 L134,485.27 L134.5,485.71 L135,486.14 L135.5,486.56 L136,486.96 L136.5,487.34 L137,487.7 L137.5,488.05 L138,488.38 L138.5,488.69 L139,488.98 L139.5,489.25 L140,489.5 L140.5,489.73 L141,489.94 L141.5,490.14 L142,490.32 L142.5,490.48 L143,490.63 L143.5,490.77 L144,490.89 L144.5,491 L145,491.11 L145.5,491.2 L146,491.28 L146.5,491.35 L147,491.42 L147.5,491.48 L148,491.54 L148.5,491.59 L149,491.63 L149.5,491.67" fill="none" stroke="#19f0f0" stroke-width="1.35" stroke-linejoin="round" stroke-linecap="round" />
<path d="M110.5,489.74 L111,489.66 L111.5,489.56 L112,489.46 L112.5,489.35 L113,489.22 L113.5,489.09 L114,488.93 L114.5,488.77 L115,488.59 L115.5,488.4 L116,488.19 L116.5,487.96 L117,487.72 L117.5,487.46 L118,487.18 L118.5,486.89 L119,486.58 L119.5,486.25 L120,485.9 L120.5,485.54 L121,485.16 L121.5,484.76 L122,484.35 L122.5,483.93 L123,483.49 L123.5,483.04 L124,482.58 L124.5,482.11 L125,481.64 L125.5,481.16 L126,480.68 L126.5,480.2 L127,479.72 L127.5,479.25 L128,478.78 L128.5,478.32 L129,477.88 L129.5,477.45 L130,477.04 L130.5,476.65 L131,476.28 L131.5,475.94 L132,475.62 L132.5,475.34 L133,475.08 L133.5,474.86 L134,474.68 L134.5,474.53 L135,474.42 L135.5,474.35 L136,474.32 L136.5,474.33 L137,474.39 L137.5,474.48 L138,474.62 L138.5,474.81 L139,475.04 L139.5,475.3 L140,475.61 L140.5,475.95 L141,476.32 L141.5,476.73 L142,477.16 L142.5,477.62 L143,478.11 L143.5,478.61 L144,479.12 L144.5,479.65 L145,480.19 L145.5,480.74 L146,481.28 L146.5,481.83 L147,482.38 L147.5,482.92 L148,483.46 L148.5,483.98 L149,484.49 L149.5,484.99 L150,485.48 L150.5,485.94 L151,486.39 L151.5,486.83 L152,487.24 L152.5,487.63 L153,488.01 L153.5,488.36 L154,488.69 L154.5,489.01 L155,489.3 L155.5,489.58 L156,489.84 L156.5,490.07 L157,490.3 L157.5,490.5 L158,490.69 L158.5,490.86 L159,491.02 L159.5,491.17 L160,491.31 L160.5,491.43 L161,491.54 L161.5,491.64 L162,491.74 L162.5,491.82 L163,491.9 L163.5,491.97 L164,492.04 L164.5,492.09" fill="none" stroke="#19e619" stroke-width="1.35" stroke-linejoin="round" stroke-linecap="round" />
<path d="M120.5,490.61 L121,490.61 L121.5,490.6 L122,490.59 L122.5,490.58 L123,490.56 L123.5,490.53 L124,490.49 L124.5,490.44 L125,490.38 L125.5,490.31 L126,490.21 L126.5,490.1 L127,489.96 L127.5,489.8 L128,489.61 L128.5,489.38 L129,489.11 L129.5,488.79 L130,488.42 L130.5,487.99 L131,487.5 L131.5,486.94 L132,486.29 L132.5,485.56 L133,484.73 L133.5,483.8 L134,482.75 L134.5,481.58 L135,480.28 L135.5,478.84 L136,477.25 L136.5,475.51 L137,473.62 L137.5,471.56 L138,469.33 L138.5,466.93 L139,464.36 L139.5,461.62 L140,458.71 L140.5,455.65 L141,452.43 L141.5,449.06 L142,445.57 L142.5,441.95 L143,438.24 L143.5,434.45 L144,430.61 L144.5,426.73 L145,422.85 L145.5,418.99 L146,415.18 L146.5,411.46 L147,407.84 L147.5,404.38 L148,401.09 L148.5,398.01 L149,395.16 L149.5,392.58 L150,390.29 L150.5,388.31 L151,386.66 L151.5,385.37 L152,384.44 L152.5,383.89 L153,383.71 L153.5,383.92 L154,384.5 L154.5,385.44 L155,386.75 L155.5,388.39 L156,390.36 L156.5,392.64 L157,395.21 L157.5,398.04 L158,401.1 L158.5,404.36 L159,407.8 L159.5,411.39 L160,415.1 L160.5,418.89 L161,422.74 L161.5,426.61 L162,430.49 L162.5,434.33 L163,438.13 L163.5,441.86 L164,445.5 L164.5,449.02 L165,452.42 L165.5,455.69 L166,458.81 L166.5,461.77 L167,464.57 L167.5,467.2 L168,469.67 L168.5,471.97 L169,474.11 L169.5,476.08 L170,477.9 L170.5,479.56 L171,481.08 L171.5,482.46 L172,483.71 L172.5,484.84 L173,485.85 L173.5,486.75 L174,487.56 L174.5,488.27 L175,488.9 L175.5,489.46 L176,489.95 L176.5,490.38 L177,490.75 L177.5,491.07 L178,491.35 L178.5,491.6 L179,491.81 L179.5,491.99 L180,492.14 L180.5,492.27 L181,492.39 L181.5,492.48 L182,492.57 L182.5,492.64 L183,492.7 L183.5,492.75 L184,492.8 L184.5,492.84 L185,492.87 L185.5,492.9 L186,492.92 L186.5,492.95 L187,492.97 L187.5,492.99 L188,493 L188.5,493.02 L189,493.04 L189.5,493.05" fill="none" stroke="#1a1aff" stroke-width="1.35" stroke-linejoin="round" stroke-linecap="round" />
<path d="M31,489.7 L31.5,489.71 L32,489.71 L32.5,489.71 L33,489.72 L33.5,489.72 L34,489.72 L34.5,489.73 L35,489.73 L35.5,489.73 L36,489.74 L36.5,489.74 L37,489.74 L37.5,489.74 L38,489.75 L38.5,489.75 L39,489.75 L39.5,489.76 L40,489.76 L40.5,489.76 L41,489.77 L41.5,489.77 L42,489.77 L42.5,489.78 L43,489.78 L43.5,489.78 L44,489.79 L44.5,489.79 L45,489.79 L45.5,489.8 L46,489.8 L46.5,489.8 L47,489.81 L47.5,489.81 L48,489.81 L48.5,489.81 L49,489.82 L49.5,489.82 L50,489.82 L50.5,489.83 L51,489.83 L51.5,489.84 L52,489.84 L52.5,489.84 L53,489.85 L53.5,489.85 L54,489.85 L54.5,489.86 L55,489.86 L55.5,489.86 L56,489.87 L56.5,489.87 L57,489.88 L57.5,489.88 L58,489.88 L58.5,489.89 L59,489.89 L59.5,489.9 L60,489.9 L60.5,489.9 L61,489.91 L61.5,489.91 L62,489.92 L62.5,489.92 L63,489.93 L63.5,489.93 L64,489.94 L64.5,489.95 L65,489.95 L65.5,489.96 L66,489.96 L66.5,489.97 L67,489.98 L67.5,489.98 L68,489.99 L68.5,490 L69,490 L69.5,490.01 L70,490.02 L70.5,490.02 L71,490.03 L71.5,490.04 L72,490.04 L72.5,490.05 L73,490.06 L73.5,490.06 L74,490.07 L74.5,490.08 L75,490.08 L75.5,490.09 L76,490.09 L76.5,490.1 L77,490.11 L77.5,490.11 L78,490.12 L78.5,490.12 L79,490.13 L79.5,490.14 L80,490.14 L80.5,490.15 L81,490.15 L81.5,490.16 L82,490.16 L82.5,490.16 L83,490.17 L83.5,490.17 L84,490.18 L84.5,490.18 L85,490.18 L85.5,490.19 L86,490.19 L86.5,490.19 L87,490.19 L87.5,490.2 L88,490.2 L88.5,490.2 L89,490.2 L89.5,490.2 L90,490.2 L90.5,490.2 L91,490.21 L91.5,490.21 L92,490.22 L92.5,490.23 L93,490.23 L93.5,490.23 L94,490.23 L94.5,490.22 L95,490.2 L95.5,490.18 L96,490.15 L96.5,490.1 L97,490.05 L97.5,489.98 L98,489.9 L98.5,489.79 L99,489.63 L99.5,489.44 L100,489.23 L100.5,488.99 L101,488.73 L101.5,488.47 L102,488.21 L102.5,487.95 L103,487.68 L103.5,487.41 L104,487.13 L104.5,486.83 L105,486.54 L105.5,486.23 L106,485.92 L106.5,485.61 L107,485.3 L107.5,484.99 L108,484.7 L108.5,484.4 L109,484.1 L109.5,483.8 L110,483.49 L110.5,483.15 L111,482.8 L111.5,482.42 L112,482 L112.5,481.53 L113,481 L113.5,480.42 L114,479.82 L114.5,479.21 L115,478.6 L115.5,478.03 L116,477.5 L116.5,477.03 L117,476.62 L117.5,476.23 L118,475.84 L118.5,475.44 L119,474.99 L119.5,474.49 L120,473.97 L120.5,473.41 L121,472.84 L121.5,472.26 L122,471.68 L122.5,471.09 L123,470.5 L123.5,469.92 L124,469.33 L124.5,468.75 L125,468.15 L125.5,467.54 L126,466.92 L126.5,466.27 L127,465.61 L127.5,464.95 L128,464.28 L128.5,463.6 L129,462.9 L129.5,462.19 L130,461.45 L130.5,460.7 L131,459.87 L131.5,458.95 L132,458.01 L132.5,457.1 L133,456.29 L133.5,455.56 L134,454.88 L134.5,454.22 L135,453.54 L135.5,452.82 L136,452.02 L136.5,451.11 L137,450.08 L137.5,448.92 L138,447.6 L138.5,446.07 L139,444.28 L139.5,442.1 L140,439.66 L140.5,437.1 L141,434.42 L141.5,431.37 L142,427.73 L142.5,423.58 L143,419.49 L143.5,415.89 L144,412.48 L144.5,409.19 L145,406.03 L145.5,403 L146,400.06 L146.5,397.21 L147,394.48 L147.5,391.9 L148,389.5 L148.5,387.26 L149,385.17 L149.5,383.25 L150,381.51 L150.5,380 L151,378.57 L151.5,377.17 L152,375.95 L152.5,375.06 L153,374.65 L153.5,374.91 L154,376.13 L154.5,378.08 L155,380.45 L155.5,382.9 L156,385.62 L156.5,388.76 L157,391.98 L157.5,394.91 L158,397.44 L158.5,400.19 L159,403.92 L159.5,408.66 L160,412.86 L160.5,416.49 L161,420.03 L161.5,423.71 L162,427.41 L162.5,431.42 L163,436.78 L163.5,442 L164,445.02 L164.5,447.52 L165,449.8 L165.5,452.17 L166,454.84 L166.5,457.69 L167,460.58 L167.5,463.39 L168,466.03 L168.5,468.51 L169,470.83 L169.5,473 L170,475.06 L170.5,477.07 L171,479 L171.5,480.81 L172,482.5 L172.5,484.01 L173,485.32 L173.5,486.48 L174,487.5 L174.5,488.4 L175,489.18 L175.5,489.85 L176,490.4 L176.5,490.87 L177,491.25 L177.5,491.57 L178,491.83 L178.5,492.03 L179,492.2 L179.5,492.33 L180,492.42 L180.5,492.49 L181,492.53 L181.5,492.56 L182,492.57 L182.5,492.58 L183,492.6 L183.5,492.62 L184,492.64 L184.5,492.66 L185,492.67 L185.5,492.69 L186,492.71 L186.5,492.73 L187,492.74 L187.5,492.76 L188,492.78 L188.5,492.8 L189,492.81 L189.5,492.83 L190,492.85 L190.5,492.87 L191,492.88 L191.5,492.9 L192,492.92 L192.5,492.93 L193,492.95 L193.5,492.96 L194,492.98 L194.5,493 L195,493.01 L195.5,493.03 L196,493.05 L196.5,493.06 L197,493.08 L197.5,493.09 L198,493.11 L198.5,493.12 L199,493.14 L199.5,493.16 L200,493.17 L200.5,493.19 L201,493.2 L201.5,493.22 L202,493.23 L202.5,493.25 L203,493.26 L203.5,493.28 L204,493.29 L204.5,493.31 L205,493.32 L205.5,493.34 L206,493.35 L206.5,493.37 L207,493.38 L207.5,493.4 L208,493.41 L208.5,493.43 L209,493.44 L209.5,493.46 L210,493.47 L210.5,493.49 L211,493.5 L211.5,493.52 L212,493.53 L212.5,493.55 L213,493.56 L213.5,493.58 L214,493.59 L214.5,493.61 L215,493.62 L215.5,493.64 L216,493.65 L216.5,493.67 L217,493.68 L217.5,493.7 L218,493.71 L218.5,493.73 L219,493.74 L219.5,493.75 L220,493.77 L220.5,493.79 L221,493.8 L221.5,493.82 L222,493.83 L222.5,493.85 L223,493.86 L223.5,493.88 L224,493.89 L224.5,493.91 L225,493.92 L225.5,493.94 L226,493.95 L226.5,493.97 L227,493.98" fill="none" stroke="#ff1010" stroke-width="1.5" stroke-linejoin="round" stroke-linecap="round" />
<path d="M31,489.8 L31.5,489.92 L32,490.05 L32.5,490.18 L33,490.3 L33.5,490.41 L34,490.52 L34.5,490.64 L35,490.76 L35.5,490.89 L36,491.01 L36.5,491.11 L37,491.19 L37.5,491.24 L38,491.25 L38.5,491.21 L39,491.12 L39.5,491 L40,490.85 L40.5,490.7 L41,490.54 L41.5,490.4 L42,490.27 L42.5,490.16 L43,490.03 L43.5,489.9 L44,489.77 L44.5,489.66 L45,489.57 L45.5,489.52 L46,489.5 L46.5,489.54 L47,489.63 L47.5,489.77 L48,489.92 L48.5,490.08 L49,490.21 L49.5,490.3 L50,490.32 L50.5,490.29 L51,490.22 L51.5,490.1 L52,489.97 L52.5,489.82 L53,489.66 L53.5,489.5 L54,489.35 L54.5,489.18 L55,488.96 L55.5,488.73 L56,488.53 L56.5,488.4 L57,488.38 L57.5,488.49 L58,488.72 L58.5,489.02 L59,489.35 L59.5,489.66 L60,489.9 L60.5,490.1 L61,490.29 L61.5,490.47 L62,490.64 L62.5,490.8 L63,490.93 L63.5,491.05 L64,491.14 L64.5,491.19 L65,491.2 L65.5,491.18 L66,491.12 L66.5,491.05 L67,490.98 L67.5,490.88 L68,490.77 L68.5,490.64 L69,490.5 L69.5,490.37 L70,490.24 L70.5,490.12 L71,490.03 L71.5,489.95 L72,489.86 L72.5,489.78 L73,489.72 L73.5,489.67 L74,489.64 L74.5,489.64 L75,489.68 L75.5,489.78 L76,489.93 L76.5,490.12 L77,490.33 L77.5,490.54 L78,490.72 L78.5,490.86 L79,490.93 L79.5,490.92 L80,490.85 L80.5,490.73 L81,490.58 L81.5,490.43 L82,490.3 L82.5,490.21 L83,490.17 L83.5,490.2 L84,490.29 L84.5,490.41 L85,490.55 L85.5,490.68 L86,490.8 L86.5,490.88 L87,490.89 L87.5,490.84 L88,490.72 L88.5,490.56 L89,490.37 L89.5,490.2 L90,490.04 L90.5,489.94 L91,489.91 L91.5,489.96 L92,490.09 L92.5,490.27 L93,490.47 L93.5,490.67 L94,490.84 L94.5,490.96 L95,491 L95.5,490.97 L96,490.87 L96.5,490.72 L97,490.54 L97.5,490.33 L98,490.11 L98.5,489.88 L99,489.63 L99.5,489.37 L100,489.08 L100.5,488.76 L101,488.44 L101.5,488.11 L102,487.79 L102.5,487.48 L103,487.19 L103.5,486.9 L104,486.63 L104.5,486.4 L105,486.25 L105.5,486.12 L106,486 L106.5,485.84 L107,485.6 L107.5,485.29 L108,484.93 L108.5,484.52 L109,484.08 L109.5,483.6 L110,482.89 L110.5,482.11 L111,481.83 L111.5,482.19 L112,482.4 L112.5,482.12 L113,481.66 L113.5,481.07 L114,480.42 L114.5,479.72 L115,479 L115.5,478.28 L116,477.59 L116.5,476.98 L117,476.43 L117.5,475.96 L118,475.54 L118.5,475.2 L119,474.92 L119.5,474.64 L120,474.32 L120.5,473.94 L121,473.44 L121.5,472.84 L122,472.16 L122.5,471.43 L123,470.67 L123.5,469.9 L124,469.13 L124.5,468.23 L125,467.25 L125.5,466.54 L126,466.39 L126.5,466.5 L127,466.31 L127.5,465.71 L128,464.98 L128.5,464.16 L129,463.3 L129.5,462.45 L130,461.65 L130.5,460.92 L131,460.15 L131.5,459.31 L132,458.45 L132.5,457.6 L133,456.79 L133.5,455.99 L134,455.19 L134.5,454.37 L135,453.54 L135.5,452.69 L136,451.82 L136.5,450.89 L137,449.87 L137.5,448.74 L138,447.46 L138.5,445.98 L139,444.22 L139.5,442.08 L140,439.66 L140.5,437.11 L141,434.43 L141.5,431.38 L142,427.75 L142.5,423.6 L143,419.51 L143.5,415.91 L144,412.5 L144.5,409.21 L145,406.05 L145.5,403.02 L146,400.08 L146.5,397.23 L147,394.49 L147.5,391.91 L148,389.5 L148.5,387.27 L149,385.17 L149.5,383.25 L150,381.51 L150.5,380 L151,378.57 L151.5,377.17 L152,375.95 L152.5,375.06 L153,374.66 L153.5,374.92 L154,376.14 L154.5,378.09 L155,380.46 L155.5,382.92 L156,385.64 L156.5,388.79 L157,392.01 L157.5,394.94 L158,397.48 L158.5,400.22 L159,403.96 L159.5,408.7 L160,412.9 L160.5,416.53 L161,420.08 L161.5,423.76 L162,427.46 L162.5,431.48 L163,436.83 L163.5,442.05 L164,445.07 L164.5,447.57 L165,449.85 L165.5,452.21 L166,454.89 L166.5,457.73 L167,460.62 L167.5,463.43 L168,466.06 L168.5,468.53 L169,470.85 L169.5,473.01 L170,475.06 L170.5,477.06 L171,478.96 L171.5,480.74 L172,482.39 L172.5,483.85 L173,485.11 L173.5,486.22 L174,487.19 L174.5,488.04 L175,488.78 L175.5,489.4 L176,489.93 L176.5,490.37 L177,490.74 L177.5,491.06 L178,491.33 L178.5,491.6 L179,491.9 L179.5,492.21 L180,492.5 L180.5,492.76 L181,492.95 L181.5,493.06 L182,493.07 L182.5,492.95 L183,492.72 L183.5,492.41 L184,492.07 L184.5,491.74 L185,491.46 L185.5,491.27 L186,491.21 L186.5,491.35 L187,491.67 L187.5,492.11 L188,492.58 L188.5,493.01 L189,493.31 L189.5,493.52 L190,493.71 L190.5,493.87 L191,494.01 L191.5,494.12 L192,494.2 L192.5,494.24 L193,494.25 L193.5,494.19 L194,494.06 L194.5,493.88 L195,493.68 L195.5,493.47 L196,493.29 L196.5,493.15 L197,493.08 L197.5,493.09 L198,493.17 L198.5,493.3 L199,493.45 L199.5,493.59 L200,493.72 L200.5,493.79 L201,493.8 L201.5,493.72 L202,493.57 L202.5,493.36 L203,493.13 L203.5,492.91 L204,492.71 L204.5,492.58 L205,492.52 L205.5,492.56 L206,492.67 L206.5,492.83 L207,493.02 L207.5,493.23 L208,493.43 L208.5,493.61 L209,493.74 L209.5,493.85 L210,493.96 L210.5,494.06 L211,494.15 L211.5,494.22 L212,494.26 L212.5,494.28 L213,494.26 L213.5,494.19 L214,494.06 L214.5,493.9 L215,493.71 L215.5,493.53 L216,493.37 L216.5,493.25 L217,493.18 L217.5,493.17 L218,493.21 L218.5,493.27 L219,493.37 L219.5,493.47 L220,493.58 L220.5,493.7 L221,493.8 L221.5,493.91 L222,494.05 L222.5,494.19 L223,494.34 L223.5,494.48 L224,494.6 L224.5,494.68 L225,494.72 L225.5,494.68 L226,494.55 L226.5,494.37 L227,494.17" fill="none" stroke="#111111" stroke-width="1.25" stroke-linejoin="round" stroke-linecap="round" />
<path d="M31,489.7 L31.5,489.71 L32,489.71 L32.5,489.72 L33,489.72 L33.5,489.72 L34,489.73 L34.5,489.73 L35,489.74 L35.5,489.74 L36,489.75 L36.5,489.75 L37,489.75 L37.5,489.76 L38,489.76 L38.5,489.77 L39,489.77 L39.5,489.77 L40,489.78 L40.5,489.78 L41,489.79 L41.5,489.79 L42,489.79 L42.5,489.8 L43,489.8 L43.5,489.81 L44,489.81 L44.5,489.81 L45,489.82 L45.5,489.82 L46,489.83 L46.5,489.83 L47,489.83 L47.5,489.84 L48,489.84 L48.5,489.84 L49,489.85 L49.5,489.85 L50,489.86 L50.5,489.86 L51,489.86 L51.5,489.87 L52,489.87 L52.5,489.88 L53,489.88 L53.5,489.88 L54,489.89 L54.5,489.89 L55,489.89 L55.5,489.9 L56,489.9 L56.5,489.91 L57,489.91 L57.5,489.91 L58,489.92 L58.5,489.92 L59,489.92 L59.5,489.93 L60,489.93 L60.5,489.94 L61,489.94 L61.5,489.94 L62,489.95 L62.5,489.95 L63,489.96 L63.5,489.96 L64,489.96 L64.5,489.97 L65,489.97 L65.5,489.98 L66,489.98 L66.5,489.98 L67,489.99 L67.5,489.99 L68,490 L68.5,490 L69,490 L69.5,490.01 L70,490.01 L70.5,490.02 L71,490.02 L71.5,490.02 L72,490.03 L72.5,490.03 L73,490.04 L73.5,490.04 L74,490.04 L74.5,490.05 L75,490.05 L75.5,490.06 L76,490.06 L76.5,490.07 L77,490.07 L77.5,490.07 L78,490.08 L78.5,490.08 L79,490.09 L79.5,490.09 L80,490.1 L80.5,490.1 L81,490.11 L81.5,490.11 L82,490.11 L82.5,490.12 L83,490.12 L83.5,490.13 L84,490.13 L84.5,490.14 L85,490.14 L85.5,490.15 L86,490.15 L86.5,490.16 L87,490.16 L87.5,490.17 L88,490.17 L88.5,490.18 L89,490.18 L89.5,490.19 L90,490.19 L90.5,490.2 L91,490.2 L91.5,490.21 L92,490.21 L92.5,490.22 L93,490.22 L93.5,490.23 L94,490.23 L94.5,490.24 L95,490.24 L95.5,490.25 L96,490.25 L96.5,490.26 L97,490.27 L97.5,490.27 L98,490.28 L98.5,490.28 L99,490.29 L99.5,490.29 L100,490.3 L100.5,490.31 L101,490.31 L101.5,490.32 L102,490.32 L102.5,490.33 L103,490.34 L103.5,490.34 L104,490.35 L104.5,490.36 L105,490.37 L105.5,490.37 L106,490.38 L106.5,490.39 L107,490.4 L107.5,490.4 L108,490.41 L108.5,490.42 L109,490.43 L109.5,490.44 L110,490.45 L110.5,490.45 L111,490.46 L111.5,490.47 L112,490.48 L112.5,490.49 L113,490.5 L113.5,490.51 L114,490.52 L114.5,490.53 L115,490.54 L115.5,490.55 L116,490.57 L116.5,490.58 L117,490.59 L117.5,490.6 L118,490.61 L118.5,490.62 L119,490.64 L119.5,490.65 L120,490.66 L120.5,490.67 L121,490.69 L121.5,490.7 L122,490.71 L122.5,490.73 L123,490.74 L123.5,490.76 L124,490.77 L124.5,490.79 L125,490.8 L125.5,490.82 L126,490.83 L126.5,490.85 L127,490.86 L127.5,490.88 L128,490.9 L128.5,490.91 L129,490.93 L129.5,490.95 L130,490.97 L130.5,490.99 L131,491.01 L131.5,491.03 L132,491.05 L132.5,491.07 L133,491.09 L133.5,491.11 L134,491.13 L134.5,491.15 L135,491.17 L135.5,491.19 L136,491.21 L136.5,491.23 L137,491.25 L137.5,491.28 L138,491.3 L138.5,491.32 L139,491.34 L139.5,491.36 L140,491.38 L140.5,491.4 L141,491.43 L141.5,491.45 L142,491.47 L142.5,491.49 L143,491.51 L143.5,491.53 L144,491.56 L144.5,491.58 L145,491.6 L145.5,491.62 L146,491.64 L146.5,491.66 L147,491.68 L147.5,491.7 L148,491.72 L148.5,491.74 L149,491.76 L149.5,491.78 L150,491.8 L150.5,491.82 L151,491.84 L151.5,491.86 L152,491.88 L152.5,491.9 L153,491.91 L153.5,491.93 L154,491.95 L154.5,491.97 L155,491.99 L155.5,492.01 L156,492.03 L156.5,492.05 L157,492.07 L157.5,492.09 L158,492.11 L158.5,492.12 L159,492.14 L159.5,492.16 L160,492.18 L160.5,492.2 L161,492.22 L161.5,492.24 L162,492.26 L162.5,492.27 L163,492.29 L163.5,492.31 L164,492.33 L164.5,492.35 L165,492.37 L165.5,492.38 L166,492.4 L166.5,492.42 L167,492.44 L167.5,492.46 L168,492.47 L168.5,492.49 L169,492.51 L169.5,492.52 L170,492.54 L170.5,492.56 L171,492.57 L171.5,492.59 L172,492.61 L172.5,492.62 L173,492.64 L173.5,492.65 L174,492.67 L174.5,492.68 L175,492.7 L175.5,492.71 L176,492.73 L176.5,492.74 L177,492.76 L177.5,492.77 L178,492.79 L178.5,492.8 L179,492.81 L179.5,492.83 L180,492.84 L180.5,492.85 L181,492.86 L181.5,492.88 L182,492.89 L182.5,492.9 L183,492.91 L183.5,492.92 L184,492.94 L184.5,492.95 L185,492.96 L185.5,492.97 L186,492.98 L186.5,492.99 L187,493.01 L187.5,493.02 L188,493.03 L188.5,493.04 L189,493.05 L189.5,493.06 L190,493.07 L190.5,493.08 L191,493.09 L191.5,493.1 L192,493.12 L192.5,493.13 L193,493.14 L193.5,493.15 L194,493.16 L194.5,493.17 L195,493.18 L195.5,493.19 L196,493.21 L196.5,493.22 L197,493.23 L197.5,493.24 L198,493.25 L198.5,493.26 L199,493.28 L199.5,493.29 L200,493.3 L200.5,493.31 L201,493.32 L201.5,493.34 L202,493.35 L202.5,493.36 L203,493.37 L203.5,493.39 L204,493.4 L204.5,493.41 L205,493.42 L205.5,493.44 L206,493.45 L206.5,493.46 L207,493.48 L207.5,493.49 L208,493.5 L208.5,493.51 L209,493.53 L209.5,493.54 L210,493.55 L210.5,493.56 L211,493.58 L211.5,493.59 L212,493.6 L212.5,493.62 L213,493.63 L213.5,493.64 L214,493.65 L214.5,493.67 L215,493.68 L215.5,493.69 L216,493.71 L216.5,493.72 L217,493.73 L217.5,493.74 L218,493.76 L218.5,493.77 L219,493.78 L219.5,493.8 L220,493.81 L220.5,493.82 L221,493.83 L221.5,493.85 L222,493.86 L222.5,493.87 L223,493.89 L223.5,493.9 L224,493.91 L224.5,493.92 L225,493.94 L225.5,493.95 L226,493.96 L226.5,493.97 L227,493.99" fill="none" stroke="#ff19ff" stroke-width="1.35" stroke-linejoin="round" stroke-linecap="round" />
<text x="164.1" y="383" font-size="9" text-anchor="start" >O1s</text>
<text x="102.3" y="448.7" font-size="9" text-anchor="start" >C-O</text>
<text x="93.1" y="458.8" font-size="9" text-anchor="start" >C=O</text>
<line x1="114.4" y1="450.2" x2="131.7" y2="473.4" stroke="#111" stroke-width="0.8"/>
<path d="M131.7,473.4 L128.81,471.56 L130.76,470.11 Z" fill="#111"/>
<line x1="106.8" y1="461" x2="119.8" y2="476.7" stroke="#111" stroke-width="0.8"/>
<path d="M119.8,476.7 L116.82,475.01 L118.7,473.46 Z" fill="#111"/>
<path d="M300.5,501.75 L301,501.77 L301.5,501.78 L302,501.79 L302.5,501.8 L303,501.81 L303.5,501.81 L304,501.82 L304.5,501.83 L305,501.83 L305.5,501.83 L306,501.83 L306.5,501.83 L307,501.83 L307.5,501.82 L308,501.81 L308.5,501.8 L309,501.78 L309.5,501.76 L310,501.74 L310.5,501.71 L311,501.67 L311.5,501.63 L312,501.58 L312.5,501.53 L313,501.47 L313.5,501.4 L314,501.32 L314.5,501.24 L315,501.14 L315.5,501.04 L316,500.93 L316.5,500.8 L317,500.67 L317.5,500.52 L318,500.36 L318.5,500.19 L319,500.01 L319.5,499.82 L320,499.61 L320.5,499.4 L321,499.17 L321.5,498.93 L322,498.68 L322.5,498.41 L323,498.14 L323.5,497.86 L324,497.58 L324.5,497.28 L325,496.98 L325.5,496.68 L326,496.37 L326.5,496.06 L327,495.75 L327.5,495.44 L328,495.14 L328.5,494.84 L329,494.55 L329.5,494.27 L330,493.99 L330.5,493.73 L331,493.49 L331.5,493.26 L332,493.05 L332.5,492.85 L333,492.68 L333.5,492.53 L334,492.4 L334.5,492.3 L335,492.22 L335.5,492.17 L336,492.15 L336.5,492.15 L337,492.18 L337.5,492.23 L338,492.31 L338.5,492.41 L339,492.54 L339.5,492.68 L340,492.86 L340.5,493.05 L341,493.26 L341.5,493.49 L342,493.74 L342.5,494 L343,494.28 L343.5,494.57 L344,494.87 L344.5,495.18 L345,495.49 L345.5,495.82 L346,496.14 L346.5,496.47 L347,496.8 L347.5,497.13 L348,497.46 L348.5,497.78 L349,498.1 L349.5,498.42 L350,498.72 L350.5,499.02 L351,499.31 L351.5,499.59 L352,499.87 L352.5,500.13 L353,500.38 L353.5,500.62 L354,500.85 L354.5,501.07 L355,501.27 L355.5,501.47 L356,501.65 L356.5,501.83 L357,501.99 L357.5,502.14 L358,502.28 L358.5,502.42 L359,502.54 L359.5,502.66 L360,502.76 L360.5,502.86 L361,502.95 L361.5,503.04 L362,503.12 L362.5,503.19 L363,503.25 L363.5,503.32 L364,503.37 L364.5,503.42 L365,503.47 L365.5,503.52 L366,503.56 L366.5,503.6 L367,503.63 L367.5,503.66 L368,503.7 L368.5,503.72 L369,503.75 L369.5,503.78" fill="none" stroke="#19f0f0" stroke-width="1.35" stroke-linejoin="round" stroke-linecap="round" />
<path d="M335.5,502.57 L336,502.56 L336.5,502.54 L337,502.52 L337.5,502.49 L338,502.46 L338.5,502.42 L339,502.38 L339.5,502.33 L340,502.28 L340.5,502.22 L341,502.15 L341.5,502.08 L342,501.99 L342.5,501.9 L343,501.8 L343.5,501.69 L344,501.57 L344.5,501.44 L345,501.29 L345.5,501.14 L346,500.97 L346.5,500.78 L347,500.59 L347.5,500.37 L348,500.15 L348.5,499.9 L349,499.64 L349.5,499.36 L350,499.07 L350.5,498.75 L351,498.42 L351.5,498.07 L352,497.7 L352.5,497.31 L353,496.9 L353.5,496.47 L354,496.02 L354.5,495.55 L355,495.06 L355.5,494.56 L356,494.03 L356.5,493.48 L357,492.92 L357.5,492.34 L358,491.75 L358.5,491.13 L359,490.51 L359.5,489.87 L360,489.22 L360.5,488.56 L361,487.89 L361.5,487.22 L362,486.54 L362.5,485.85 L363,485.17 L363.5,484.49 L364,483.8 L364.5,483.13 L365,482.46 L365.5,481.8 L366,481.16 L366.5,480.52 L367,479.91 L367.5,479.31 L368,478.74 L368.5,478.19 L369,477.66 L369.5,477.16 L370,476.7 L370.5,476.26 L371,475.86 L371.5,475.5 L372,475.17 L372.5,474.88 L373,474.63 L373.5,474.43 L374,474.26 L374.5,474.14 L375,474.06 L375.5,474.03 L376,474.04 L376.5,474.11 L377,474.23 L377.5,474.42 L378,474.66 L378.5,474.95 L379,475.3 L379.5,475.71 L380,476.16 L380.5,476.66 L381,477.2 L381.5,477.78 L382,478.41 L382.5,479.07 L383,479.76 L383.5,480.48 L384,481.22 L384.5,481.98 L385,482.77 L385.5,483.57 L386,484.37 L386.5,485.19 L387,486.01 L387.5,486.83 L388,487.65 L388.5,488.46 L389,489.26 L389.5,490.05 L390,490.83 L390.5,491.6 L391,492.34 L391.5,493.07 L392,493.78 L392.5,494.46 L393,495.13 L393.5,495.76 L394,496.37 L394.5,496.96 L395,497.52 L395.5,498.06 L396,498.56 L396.5,499.05 L397,499.5 L397.5,499.93 L398,500.34 L398.5,500.72 L399,501.08 L399.5,501.41 L400,501.73 L400.5,502.02 L401,502.29 L401.5,502.54 L402,502.77 L402.5,502.99 L403,503.19 L403.5,503.37 L404,503.54 L404.5,503.7 L405,503.84 L405.5,503.97 L406,504.09 L406.5,504.2 L407,504.3 L407.5,504.39 L408,504.48 L408.5,504.55 L409,504.62 L409.5,504.69 L410,504.75 L410.5,504.8 L411,504.85 L411.5,504.9 L412,504.94 L412.5,504.98 L413,505.01 L413.5,505.05 L414,505.08 L414.5,505.1 L415,505.13 L415.5,505.16 L416,505.18 L416.5,505.2 L417,505.23 L417.5,505.25 L418,505.27 L418.5,505.29 L419,505.3 L419.5,505.32" fill="none" stroke="#19e619" stroke-width="1.35" stroke-linejoin="round" stroke-linecap="round" />
<path d="M355.5,502.53 L356,502.52 L356.5,502.51 L357,502.5 L357.5,502.49 L358,502.47 L358.5,502.46 L359,502.44 L359.5,502.42 L360,502.4 L360.5,502.38 L361,502.36 L361.5,502.33 L362,502.3 L362.5,502.26 L363,502.22 L363.5,502.18 L364,502.12 L364.5,502.06 L365,502 L365.5,501.92 L366,501.83 L366.5,501.72 L367,501.6 L367.5,501.46 L368,501.3 L368.5,501.11 L369,500.89 L369.5,500.64 L370,500.35 L370.5,500.01 L371,499.62 L371.5,499.18 L372,498.67 L372.5,498.09 L373,497.43 L373.5,496.68 L374,495.84 L374.5,494.89 L375,493.82 L375.5,492.63 L376,491.31 L376.5,489.84 L377,488.22 L377.5,486.45 L378,484.51 L378.5,482.4 L379,480.12 L379.5,477.66 L380,475.02 L380.5,472.21 L381,469.23 L381.5,466.08 L382,462.78 L382.5,459.34 L383,455.76 L383.5,452.08 L384,448.32 L384.5,444.48 L385,440.61 L385.5,436.73 L386,432.87 L386.5,429.07 L387,425.37 L387.5,421.79 L388,418.38 L388.5,415.19 L389,412.24 L389.5,409.58 L390,407.24 L390.5,405.26 L391,403.67 L391.5,402.49 L392,401.74 L392.5,401.44 L393,401.58 L393.5,402.15 L394,403.14 L394.5,404.53 L395,406.3 L395.5,408.43 L396,410.89 L396.5,413.63 L397,416.64 L397.5,419.86 L398,423.27 L398.5,426.83 L399,430.51 L399.5,434.26 L400,438.06 L400.5,441.87 L401,445.67 L401.5,449.43 L402,453.12 L402.5,456.73 L403,460.23 L403.5,463.61 L404,466.85 L404.5,469.95 L405,472.88 L405.5,475.66 L406,478.27 L406.5,480.71 L407,482.99 L407.5,485.1 L408,487.04 L408.5,488.83 L409,490.47 L409.5,491.96 L410,493.32 L410.5,494.55 L411,495.65 L411.5,496.64 L412,497.53 L412.5,498.33 L413,499.03 L413.5,499.66 L414,500.22 L414.5,500.71 L415,501.14 L415.5,501.53 L416,501.86 L416.5,502.16 L417,502.42 L417.5,502.65 L418,502.86 L418.5,503.04 L419,503.2 L419.5,503.34 L420,503.47 L420.5,503.59 L421,503.69 L421.5,503.79 L422,503.87 L422.5,503.95 L423,504.03 L423.5,504.09 L424,504.16 L424.5,504.22 L425,504.28 L425.5,504.33 L426,504.38 L426.5,504.43 L427,504.48 L427.5,504.52 L428,504.57 L428.5,504.61 L429,504.65 L429.5,504.69" fill="none" stroke="#1a1aff" stroke-width="1.35" stroke-linejoin="round" stroke-linecap="round" />
<path d="M262,500.41 L262.5,500.42 L263,500.44 L263.5,500.45 L264,500.46 L264.5,500.47 L265,500.48 L265.5,500.5 L266,500.51 L266.5,500.52 L267,500.53 L267.5,500.54 L268,500.56 L268.5,500.57 L269,500.58 L269.5,500.59 L270,500.6 L270.5,500.61 L271,500.62 L271.5,500.64 L272,500.65 L272.5,500.67 L273,500.68 L273.5,500.7 L274,500.71 L274.5,500.73 L275,500.74 L275.5,500.75 L276,500.76 L276.5,500.78 L277,500.79 L277.5,500.79 L278,500.8 L278.5,500.8 L279,500.8 L279.5,500.8 L280,500.8 L280.5,500.79 L281,500.78 L281.5,500.77 L282,500.75 L282.5,500.74 L283,500.72 L283.5,500.69 L284,500.67 L284.5,500.64 L285,500.62 L285.5,500.59 L286,500.57 L286.5,500.54 L287,500.52 L287.5,500.49 L288,500.47 L288.5,500.45 L289,500.43 L289.5,500.41 L290,500.4 L290.5,500.39 L291,500.38 L291.5,500.36 L292,500.35 L292.5,500.34 L293,500.33 L293.5,500.32 L294,500.32 L294.5,500.31 L295,500.3 L295.5,500.3 L296,500.29 L296.5,500.29 L297,500.29 L297.5,500.29 L298,500.29 L298.5,500.29 L299,500.29 L299.5,500.3 L300,500.31 L300.5,500.33 L301,500.35 L301.5,500.37 L302,500.4 L302.5,500.43 L303,500.46 L303.5,500.49 L304,500.52 L304.5,500.54 L305,500.57 L305.5,500.59 L306,500.6 L306.5,500.61 L307,500.62 L307.5,500.64 L308,500.65 L308.5,500.66 L309,500.67 L309.5,500.67 L310,500.68 L310.5,500.68 L311,500.67 L311.5,500.66 L312,500.65 L312.5,500.63 L313,500.61 L313.5,500.56 L314,500.49 L314.5,500.39 L315,500.27 L315.5,500.14 L316,500 L316.5,499.85 L317,499.68 L317.5,499.5 L318,499.31 L318.5,499.11 L319,498.9 L319.5,498.68 L320,498.46 L320.5,498.22 L321,497.99 L321.5,497.74 L322,497.5 L322.5,497.25 L323,497 L323.5,496.75 L324,496.49 L324.5,496.23 L325,495.96 L325.5,495.7 L326,495.43 L326.5,495.16 L327,494.89 L327.5,494.61 L328,494.32 L328.5,494.03 L329,493.75 L329.5,493.48 L330,493.22 L330.5,493 L331,492.8 L331.5,492.62 L332,492.45 L332.5,492.29 L333,492.15 L333.5,492.02 L334,491.91 L334.5,491.8 L335,491.71 L335.5,491.65 L336,491.61 L336.5,491.58 L337,491.58 L337.5,491.6 L338,491.64 L338.5,491.7 L339,491.78 L339.5,491.88 L340,491.99 L340.5,492.13 L341,492.29 L341.5,492.46 L342,492.66 L342.5,492.85 L343,493.05 L343.5,493.23 L344,493.4 L344.5,493.55 L345,493.71 L345.5,493.85 L346,493.98 L346.5,494.09 L347,494.17 L347.5,494.23 L348,494.25 L348.5,494.24 L349,494.21 L349.5,494.16 L350,494.1 L350.5,494.03 L351,493.96 L351.5,493.87 L352,493.76 L352.5,493.62 L353,493.44 L353.5,493.22 L354,492.96 L354.5,492.67 L355,492.34 L355.5,491.99 L356,491.6 L356.5,491.19 L357,490.78 L357.5,490.35 L358,489.9 L358.5,489.44 L359,488.95 L359.5,488.45 L360,487.92 L360.5,487.37 L361,486.8 L361.5,486.22 L362,485.62 L362.5,485.01 L363,484.39 L363.5,483.75 L364,483.09 L364.5,482.42 L365,481.72 L365.5,481.01 L366,480.28 L366.5,479.53 L367,478.74 L367.5,477.92 L368,477.06 L368.5,476.15 L369,475.2 L369.5,474.19 L370,473.12 L370.5,471.99 L371,470.8 L371.5,469.54 L372,468.22 L372.5,466.83 L373,465.28 L373.5,463.6 L374,461.87 L374.5,460.13 L375,458.43 L375.5,456.79 L376,455.15 L376.5,453.47 L377,451.71 L377.5,449.8 L378,447.53 L378.5,444.97 L379,442.27 L379.5,439.48 L380,436.55 L380.5,433.46 L381,429.99 L381.5,426.41 L382,423.2 L382.5,420.49 L383,418.01 L383.5,415.65 L384,413.28 L384.5,410.79 L385,408.22 L385.5,405.66 L386,403.21 L386.5,400.97 L387,398.92 L387.5,397.02 L388,395.28 L388.5,393.7 L389,392.37 L389.5,391.35 L390,390.6 L390.5,390.1 L391,389.87 L391.5,389.9 L392,390.2 L392.5,390.76 L393,391.5 L393.5,392.37 L394,393.44 L394.5,394.8 L395,396.36 L395.5,398.13 L396,400.34 L396.5,403.53 L397,408.15 L397.5,412.72 L398,417.33 L398.5,421.75 L399,426.15 L399.5,430.47 L400,434.5 L400.5,438.12 L401,441.44 L401.5,444.58 L402,447.64 L402.5,450.73 L403,453.94 L403.5,457.23 L404,460.53 L404.5,463.76 L405,466.83 L405.5,469.68 L406,472.29 L406.5,474.74 L407,477.11 L407.5,479.47 L408,481.83 L408.5,484.1 L409,486.21 L409.5,488.13 L410,489.89 L410.5,491.54 L411,493.1 L411.5,494.59 L412,496.05 L412.5,497.42 L413,498.65 L413.5,499.69 L414,500.6 L414.5,501.42 L415,502.15 L415.5,502.78 L416,503.31 L416.5,503.76 L417,504.14 L417.5,504.47 L418,504.75 L418.5,504.98 L419,505.17 L419.5,505.3 L420,505.4 L420.5,505.47 L421,505.53 L421.5,505.57 L422,505.61 L422.5,505.64 L423,505.65 L423.5,505.67 L424,505.67 L424.5,505.67 L425,505.67 L425.5,505.66 L426,505.65 L426.5,505.64 L427,505.62 L427.5,505.61 L428,505.6 L428.5,505.6 L429,505.59 L429.5,505.59 L430,505.6 L430.5,505.61 L431,505.62 L431.5,505.63 L432,505.64 L432.5,505.64 L433,505.65 L433.5,505.66 L434,505.67 L434.5,505.68 L435,505.69 L435.5,505.69 L436,505.7 L436.5,505.71 L437,505.72 L437.5,505.73 L438,505.75 L438.5,505.76 L439,505.77 L439.5,505.78 L440,505.8 L440.5,505.82 L441,505.83 L441.5,505.85 L442,505.87 L442.5,505.88 L443,505.9 L443.5,505.92 L444,505.94 L444.5,505.95 L445,505.97 L445.5,505.99 L446,506.01 L446.5,506.03 L447,506.05 L447.5,506.07 L448,506.09 L448.5,506.11 L449,506.13 L449.5,506.15 L450,506.17 L450.5,506.19 L451,506.2 L451.5,506.22 L452,506.24 L452.5,506.26 L453,506.28 L453.5,506.3 L454,506.32 L454.5,506.34 L455,506.36 L455.5,506.38 L456,506.4 L456.5,506.42 L457,506.44 L457.5,506.46 L458,506.48" fill="none" stroke="#ff1010" stroke-width="1.5" stroke-linejoin="round" stroke-linecap="round" />
<path d="M262,500.43 L262.5,500.46 L263,500.5 L263.5,500.53 L264,500.57 L264.5,500.6 L265,500.64 L265.5,500.67 L266,500.71 L266.5,500.74 L267,500.77 L267.5,500.8 L268,500.83 L268.5,500.85 L269,500.87 L269.5,500.89 L270,500.9 L270.5,500.91 L271,500.92 L271.5,500.93 L272,500.93 L272.5,500.93 L273,500.94 L273.5,500.94 L274,500.93 L274.5,500.93 L275,500.93 L275.5,500.92 L276,500.91 L276.5,500.9 L277,500.89 L277.5,500.88 L278,500.87 L278.5,500.85 L279,500.84 L279.5,500.82 L280,500.8 L280.5,500.78 L281,500.75 L281.5,500.72 L282,500.68 L282.5,500.65 L283,500.61 L283.5,500.56 L284,500.52 L284.5,500.48 L285,500.43 L285.5,500.39 L286,500.34 L286.5,500.3 L287,500.26 L287.5,500.23 L288,500.19 L288.5,500.16 L289,500.14 L289.5,500.12 L290,500.1 L290.5,500.09 L291,500.08 L291.5,500.08 L292,500.08 L292.5,500.08 L293,500.09 L293.5,500.1 L294,500.11 L294.5,500.12 L295,500.13 L295.5,500.15 L296,500.17 L296.5,500.18 L297,500.2 L297.5,500.22 L298,500.24 L298.5,500.26 L299,500.27 L299.5,500.29 L300,500.31 L300.5,500.33 L301,500.36 L301.5,500.39 L302,500.42 L302.5,500.45 L303,500.48 L303.5,500.51 L304,500.54 L304.5,500.56 L305,500.59 L305.5,500.6 L306,500.61 L306.5,500.62 L307,500.63 L307.5,500.64 L308,500.65 L308.5,500.66 L309,500.67 L309.5,500.67 L310,500.68 L310.5,500.68 L311,500.67 L311.5,500.66 L312,500.65 L312.5,500.63 L313,500.61 L313.5,500.56 L314,500.49 L314.5,500.39 L315,500.27 L315.5,500.14 L316,500 L316.5,499.85 L317,499.68 L317.5,499.5 L318,499.31 L318.5,499.11 L319,498.9 L319.5,498.68 L320,498.46 L320.5,498.22 L321,497.99 L321.5,497.74 L322,497.5 L322.5,497.25 L323,497 L323.5,496.75 L324,496.49 L324.5,496.23 L325,495.96 L325.5,495.7 L326,495.43 L326.5,495.16 L327,494.89 L327.5,494.61 L328,494.32 L328.5,494.03 L329,493.75 L329.5,493.48 L330,493.22 L330.5,493 L331,492.8 L331.5,492.62 L332,492.45 L332.5,492.29 L333,492.15 L333.5,492.02 L334,491.91 L334.5,491.8 L335,491.71 L335.5,491.65 L336,491.61 L336.5,491.58 L337,491.58 L337.5,491.6 L338,491.64 L338.5,491.7 L339,491.78 L339.5,491.88 L340,491.99 L340.5,492.13 L341,492.29 L341.5,492.46 L342,492.66 L342.5,492.85 L343,493.05 L343.5,493.23 L344,493.4 L344.5,493.55 L345,493.71 L345.5,493.85 L346,493.98 L346.5,494.09 L347,494.17 L347.5,494.23 L348,494.25 L348.5,494.24 L349,494.21 L349.5,494.16 L350,494.1 L350.5,494.03 L351,493.96 L351.5,493.87 L352,493.76 L352.5,493.62 L353,493.44 L353.5,493.22 L354,492.96 L354.5,492.67 L355,492.34 L355.5,491.99 L356,491.6 L356.5,491.19 L357,490.78 L357.5,490.35 L358,489.9 L358.5,489.44 L359,488.95 L359.5,488.45 L360,487.92 L360.5,487.37 L361,486.8 L361.5,486.22 L362,485.62 L362.5,485.01 L363,484.39 L363.5,483.75 L364,483.09 L364.5,482.42 L365,481.72 L365.5,481.01 L366,480.28 L366.5,479.53 L367,478.74 L367.5,477.92 L368,477.06 L368.5,476.15 L369,475.2 L369.5,474.19 L370,473.12 L370.5,471.99 L371,470.8 L371.5,469.55 L372,468.23 L372.5,466.83 L373,465.29 L373.5,463.62 L374,461.88 L374.5,460.14 L375,458.45 L375.5,456.81 L376,455.18 L376.5,453.5 L377,451.73 L377.5,449.82 L378,447.56 L378.5,444.99 L379,442.29 L379.5,439.49 L380,436.55 L380.5,433.45 L381,429.97 L381.5,426.38 L382,423.15 L382.5,420.43 L383,417.94 L383.5,415.56 L384,413.17 L384.5,410.66 L385,408.07 L385.5,405.49 L386,403.02 L386.5,400.75 L387,398.67 L387.5,396.75 L388,394.98 L388.5,393.36 L389,391.96 L389.5,390.86 L390,390.04 L390.5,389.5 L391,389.27 L391.5,389.36 L392,389.76 L392.5,390.45 L393,391.33 L393.5,392.31 L394,393.44 L394.5,394.83 L395,396.4 L395.5,398.17 L396,400.37 L396.5,403.56 L397,408.17 L397.5,412.72 L398,417.32 L398.5,421.73 L399,426.13 L399.5,430.45 L400,434.5 L400.5,438.15 L401,441.49 L401.5,444.66 L402,447.75 L402.5,450.88 L403,454.13 L403.5,457.48 L404,460.85 L404.5,464.16 L405,467.33 L405.5,470.29 L406,473.03 L406.5,475.63 L407,478.16 L407.5,480.7 L408,483.24 L408.5,485.71 L409,488.03 L409.5,490.18 L410,492.27 L410.5,494.32 L411,496.27 L411.5,498.06 L412,499.66 L412.5,501.1 L413,502.34 L413.5,503.34 L414,504.2 L414.5,504.95 L415,505.57 L415.5,506.04 L416,506.36 L416.5,506.5 L417,506.46 L417.5,506.35 L418,506.25 L418.5,506.19 L419,506.11 L419.5,506.05 L420,506 L420.5,505.97 L421,505.95 L421.5,505.93 L422,505.92 L422.5,505.9 L423,505.87 L423.5,505.84 L424,505.79 L424.5,505.74 L425,505.67 L425.5,505.57 L426,505.46 L426.5,505.35 L427,505.23 L427.5,505.11 L428,505 L428.5,504.9 L429,504.78 L429.5,504.67 L430,504.57 L430.5,504.48 L431,504.41 L431.5,504.36 L432,504.34 L432.5,504.36 L433,504.42 L433.5,504.52 L434,504.64 L434.5,504.78 L435,504.93 L435.5,505.07 L436,505.2 L436.5,505.34 L437,505.49 L437.5,505.65 L438,505.81 L438.5,505.96 L439,506.1 L439.5,506.22 L440,506.3 L440.5,506.36 L441,506.42 L441.5,506.46 L442,506.5 L442.5,506.54 L443,506.57 L443.5,506.59 L444,506.61 L444.5,506.63 L445,506.64 L445.5,506.64 L446,506.65 L446.5,506.65 L447,506.65 L447.5,506.64 L448,506.61 L448.5,506.56 L449,506.51 L449.5,506.45 L450,506.39 L450.5,506.34 L451,506.29 L451.5,506.26 L452,506.24 L452.5,506.24 L453,506.25 L453.5,506.26 L454,506.27 L454.5,506.3 L455,506.32 L455.5,506.35 L456,506.37 L456.5,506.4 L457,506.43 L457.5,506.46 L458,506.48" fill="none" stroke="#111111" stroke-width="1.25" stroke-linejoin="round" stroke-linecap="round" />
<path d="M262,500.62 L262.5,500.63 L263,500.65 L263.5,500.66 L264,500.68 L264.5,500.69 L265,500.71 L265.5,500.72 L266,500.74 L266.5,500.75 L267,500.77 L267.5,500.78 L268,500.8 L268.5,500.81 L269,500.83 L269.5,500.84 L270,500.86 L270.5,500.87 L271,500.89 L271.5,500.9 L272,500.92 L272.5,500.93 L273,500.95 L273.5,500.96 L274,500.98 L274.5,500.99 L275,501 L275.5,501.02 L276,501.04 L276.5,501.05 L277,501.06 L277.5,501.08 L278,501.1 L278.5,501.11 L279,501.12 L279.5,501.14 L280,501.16 L280.5,501.17 L281,501.19 L281.5,501.2 L282,501.22 L282.5,501.23 L283,501.25 L283.5,501.26 L284,501.28 L284.5,501.29 L285,501.31 L285.5,501.32 L286,501.34 L286.5,501.35 L287,501.37 L287.5,501.38 L288,501.4 L288.5,501.41 L289,501.43 L289.5,501.44 L290,501.46 L290.5,501.47 L291,501.49 L291.5,501.5 L292,501.52 L292.5,501.53 L293,501.55 L293.5,501.56 L294,501.58 L294.5,501.59 L295,501.61 L295.5,501.62 L296,501.64 L296.5,501.65 L297,501.67 L297.5,501.68 L298,501.7 L298.5,501.71 L299,501.73 L299.5,501.74 L300,501.75 L300.5,501.77 L301,501.79 L301.5,501.8 L302,501.81 L302.5,501.83 L303,501.85 L303.5,501.86 L304,501.88 L304.5,501.89 L305,501.91 L305.5,501.92 L306,501.94 L306.5,501.95 L307,501.97 L307.5,501.98 L308,502 L308.5,502.01 L309,502.03 L309.5,502.04 L310,502.06 L310.5,502.07 L311,502.09 L311.5,502.1 L312,502.12 L312.5,502.13 L313,502.15 L313.5,502.16 L314,502.18 L314.5,502.19 L315,502.21 L315.5,502.22 L316,502.24 L316.5,502.25 L317,502.27 L317.5,502.28 L318,502.3 L318.5,502.31 L319,502.33 L319.5,502.34 L320,502.36 L320.5,502.37 L321,502.39 L321.5,502.4 L322,502.42 L322.5,502.43 L323,502.45 L323.5,502.46 L324,502.48 L324.5,502.49 L325,502.5 L325.5,502.52 L326,502.54 L326.5,502.55 L327,502.56 L327.5,502.58 L328,502.6 L328.5,502.61 L329,502.62 L329.5,502.64 L330,502.66 L330.5,502.67 L331,502.69 L331.5,502.7 L332,502.72 L332.5,502.73 L333,502.75 L333.5,502.76 L334,502.78 L334.5,502.79 L335,502.81 L335.5,502.82 L336,502.84 L336.5,502.85 L337,502.87 L337.5,502.88 L338,502.9 L338.5,502.91 L339,502.93 L339.5,502.94 L340,502.96 L340.5,502.97 L341,502.99 L341.5,503 L342,503.02 L342.5,503.03 L343,503.05 L343.5,503.06 L344,503.08 L344.5,503.09 L345,503.11 L345.5,503.12 L346,503.14 L346.5,503.15 L347,503.17 L347.5,503.18 L348,503.2 L348.5,503.21 L349,503.23 L349.5,503.24 L350,503.25 L350.5,503.27 L351,503.29 L351.5,503.3 L352,503.31 L352.5,503.33 L353,503.35 L353.5,503.36 L354,503.38 L354.5,503.39 L355,503.41 L355.5,503.42 L356,503.44 L356.5,503.45 L357,503.47 L357.5,503.48 L358,503.5 L358.5,503.51 L359,503.53 L359.5,503.54 L360,503.56 L360.5,503.57 L361,503.59 L361.5,503.6 L362,503.62 L362.5,503.63 L363,503.65 L363.5,503.66 L364,503.68 L364.5,503.69 L365,503.71 L365.5,503.72 L366,503.74 L366.5,503.75 L367,503.77 L367.5,503.78 L368,503.8 L368.5,503.81 L369,503.83 L369.5,503.84 L370,503.86 L370.5,503.87 L371,503.89 L371.5,503.9 L372,503.92 L372.5,503.93 L373,503.95 L373.5,503.96 L374,503.98 L374.5,503.99 L375,504 L375.5,504.02 L376,504.04 L376.5,504.05 L377,504.06 L377.5,504.08 L378,504.1 L378.5,504.11 L379,504.12 L379.5,504.14 L380,504.16 L380.5,504.17 L381,504.19 L381.5,504.2 L382,504.22 L382.5,504.23 L383,504.25 L383.5,504.26 L384,504.28 L384.5,504.29 L385,504.31 L385.5,504.32 L386,504.34 L386.5,504.35 L387,504.37 L387.5,504.38 L388,504.4 L388.5,504.41 L389,504.43 L389.5,504.44 L390,504.46 L390.5,504.47 L391,504.49 L391.5,504.5 L392,504.52 L392.5,504.53 L393,504.55 L393.5,504.56 L394,504.58 L394.5,504.59 L395,504.61 L395.5,504.62 L396,504.64 L396.5,504.65 L397,504.67 L397.5,504.68 L398,504.7 L398.5,504.71 L399,504.73 L399.5,504.74 L400,504.75 L400.5,504.77 L401,504.79 L401.5,504.8 L402,504.81 L402.5,504.83 L403,504.85 L403.5,504.86 L404,504.88 L404.5,504.89 L405,504.91 L405.5,504.92 L406,504.94 L406.5,504.95 L407,504.97 L407.5,504.98 L408,505 L408.5,505.01 L409,505.03 L409.5,505.04 L410,505.06 L410.5,505.07 L411,505.09 L411.5,505.1 L412,505.12 L412.5,505.13 L413,505.15 L413.5,505.16 L414,505.18 L414.5,505.19 L415,505.21 L415.5,505.22 L416,505.24 L416.5,505.25 L417,505.27 L417.5,505.28 L418,505.3 L418.5,505.31 L419,505.33 L419.5,505.34 L420,505.36 L420.5,505.37 L421,505.39 L421.5,505.4 L422,505.42 L422.5,505.43 L423,505.45 L423.5,505.46 L424,505.48 L424.5,505.49 L425,505.5 L425.5,505.52 L426,505.54 L426.5,505.55 L427,505.56 L427.5,505.58 L428,505.6 L428.5,505.61 L429,505.62 L429.5,505.64 L430,505.66 L430.5,505.67 L431,505.69 L431.5,505.7 L432,505.72 L432.5,505.73 L433,505.75 L433.5,505.76 L434,505.78 L434.5,505.79 L435,505.81 L435.5,505.82 L436,505.84 L436.5,505.85 L437,505.87 L437.5,505.88 L438,505.9 L438.5,505.91 L439,505.93 L439.5,505.94 L440,505.96 L440.5,505.97 L441,505.99 L441.5,506 L442,506.02 L442.5,506.03 L443,506.05 L443.5,506.06 L444,506.08 L444.5,506.09 L445,506.11 L445.5,506.12 L446,506.14 L446.5,506.15 L447,506.17 L447.5,506.18 L448,506.2 L448.5,506.21 L449,506.23 L449.5,506.24 L450,506.25 L450.5,506.27 L451,506.29 L451.5,506.3 L452,506.31 L452.5,506.33 L453,506.35 L453.5,506.36 L454,506.38 L454.5,506.39 L455,506.41 L455.5,506.42 L456,506.44 L456.5,506.45 L457,506.47 L457.5,506.48 L458,506.5" fill="none" stroke="#ff19ff" stroke-width="1.35" stroke-linejoin="round" stroke-linecap="round" />
<text x="402.6" y="392.3" font-size="9" text-anchor="start" >C1s</text>
<text x="344.6" y="398.2" font-size="9" text-anchor="start" >SP<tspan font-size="5.5" dy="-3.5">2</tspan><tspan dy="3.5">C</tspan></text>
<text x="335.5" y="463.2" font-size="9" text-anchor="start" >SP<tspan font-size="5.5" dy="-3.5">3</tspan><tspan dy="3.5">C</tspan></text>
<text x="290.7" y="478.4" font-size="9" text-anchor="start" >C=O</text>
<line x1="366.2" y1="395.4" x2="390.2" y2="401.9" stroke="#111" stroke-width="0.8"/>
<path d="M390.2,401.9 L387.01,402.22 L387.6,400.02 Z" fill="#111"/>
<line x1="351.2" y1="466.1" x2="375.4" y2="473" stroke="#111" stroke-width="0.8"/>
<path d="M375.4,473 L372.2,473.27 L372.83,471.08 Z" fill="#111"/>
<line x1="309.6" y1="483.3" x2="333.6" y2="489.7" stroke="#111" stroke-width="0.8"/>
<path d="M333.6,489.7 L330.19,490.05 L330.82,487.7 Z" fill="#111"/>
</svg>
</body></html>
